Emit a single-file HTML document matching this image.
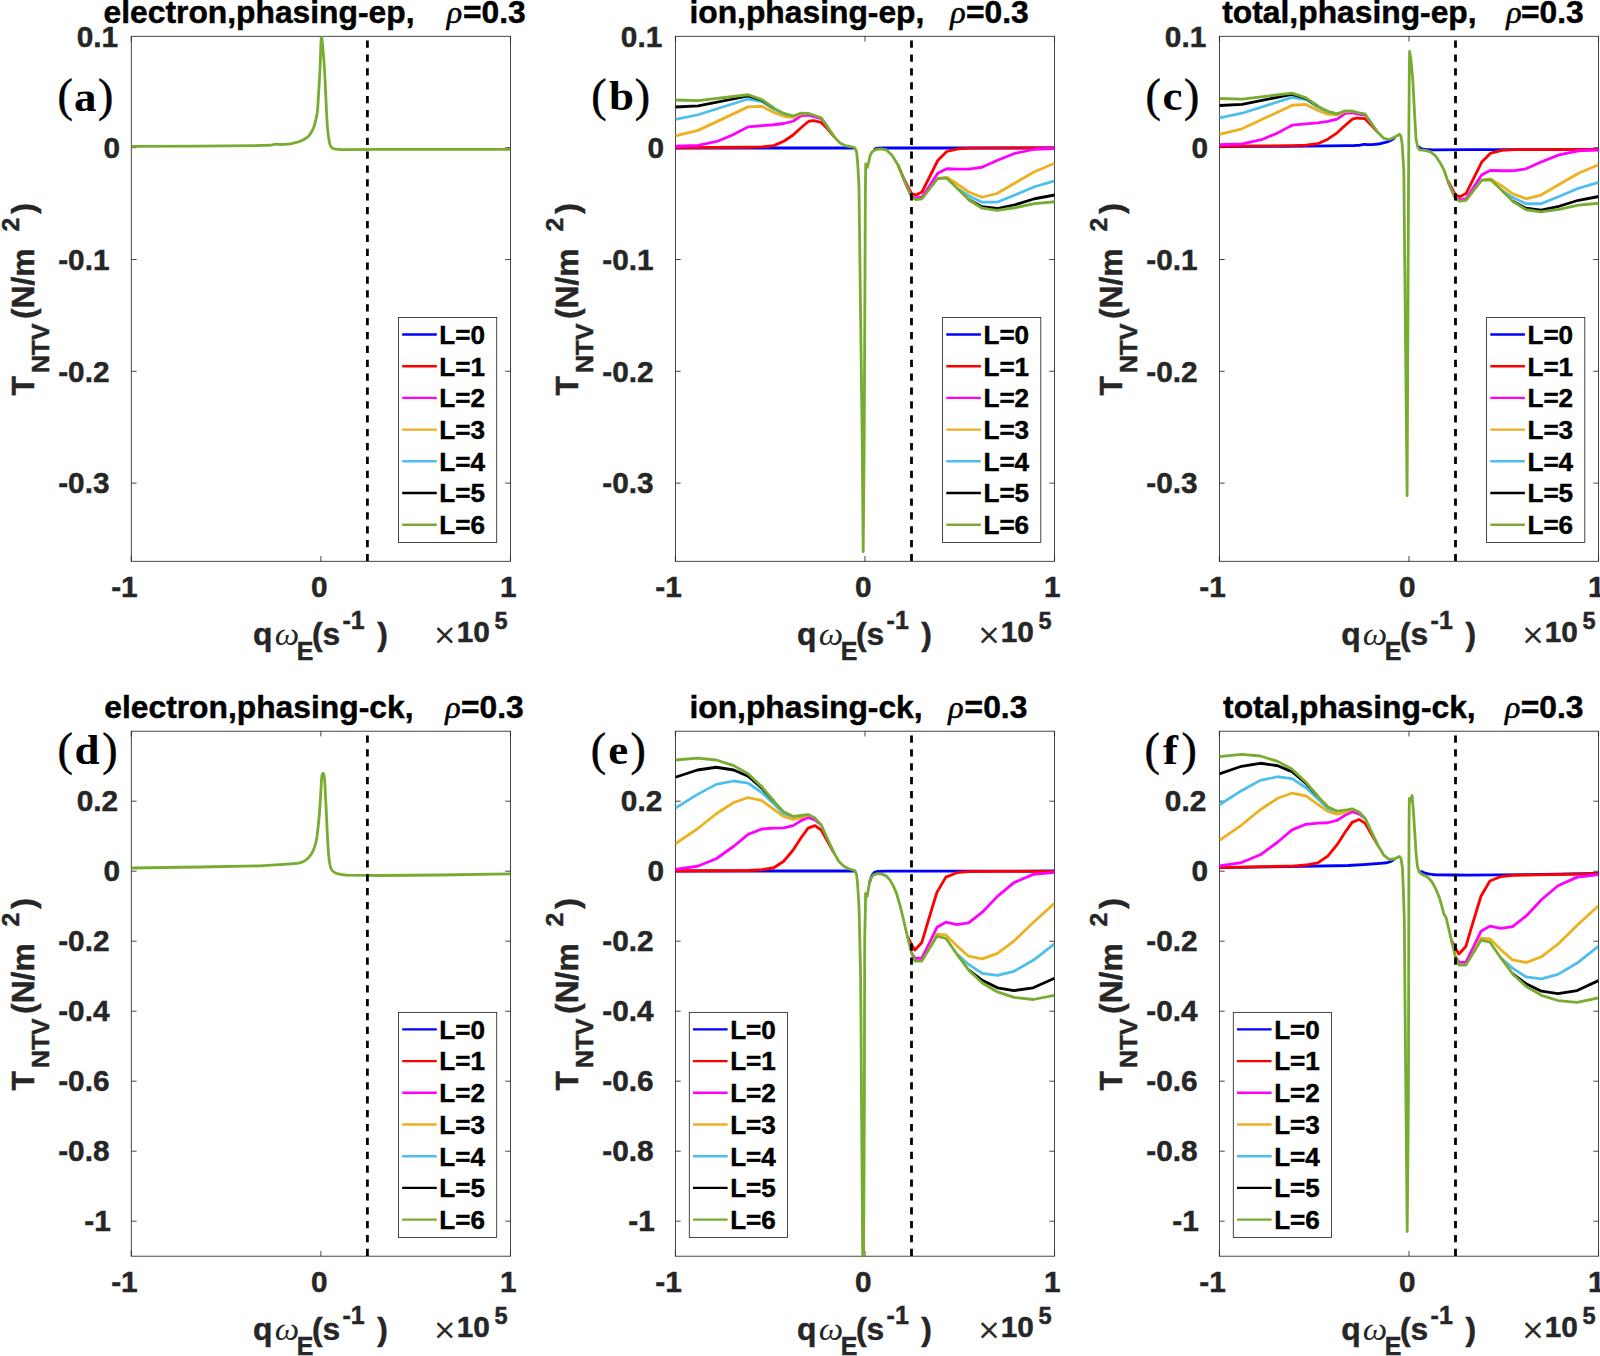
<!DOCTYPE html>
<html><head><meta charset="utf-8"><title>T_NTV vs q omega_E</title>
<style>html,body{margin:0;padding:0;background:#fff}svg{display:block}text{white-space:pre}</style></head>
<body><svg width="1600" height="1356" viewBox="0 0 1600 1356">
<rect x="0" y="0" width="1600" height="1356" fill="#ffffff"/>
<defs>
<clipPath id="cp00"><rect x="131.30" y="36.30" width="379.15" height="525.00"/></clipPath>
<clipPath id="cp01"><rect x="675.40" y="36.30" width="379.15" height="525.00"/></clipPath>
<clipPath id="cp02"><rect x="1219.40" y="36.30" width="379.15" height="525.00"/></clipPath>
<clipPath id="cp10"><rect x="131.30" y="731.20" width="379.15" height="525.00"/></clipPath>
<clipPath id="cp11"><rect x="675.40" y="731.20" width="379.15" height="525.00"/></clipPath>
<clipPath id="cp12"><rect x="1219.40" y="731.20" width="379.15" height="525.00"/></clipPath>
</defs>
<rect x="131.30" y="36.30" width="379.15" height="525.00" fill="none" stroke="#262626" stroke-width="0.85"/>
<path d="M131.30,561.30v-5.3 M131.30,36.30v5.3 M320.88,561.30v-5.3 M320.88,36.30v5.3 M510.45,561.30v-5.3 M510.45,36.30v5.3 M131.30,147.70h5.3 M510.45,147.70h-5.3 M131.30,259.50h5.3 M510.45,259.50h-5.3 M131.30,371.30h5.3 M510.45,371.30h-5.3 M131.30,483.10h5.3 M510.45,483.10h-5.3" stroke="#262626" stroke-width="0.85" fill="none"/>
<g clip-path="url(#cp00)" fill="none" stroke-width="2.8" stroke-linejoin="round" stroke-linecap="butt">
<path d="M131.30,146.30 L200.00,146.20 L260.00,145.50 L262.00,145.46 L262.25,145.45 L262.50,145.45 L262.75,145.44 L263.00,145.43 L263.25,145.43 L263.50,145.42 L263.75,145.41 L264.00,145.41 L264.25,145.40 L264.50,145.39 L264.75,145.39 L265.00,145.38 L265.25,145.37 L265.50,145.36 L265.75,145.35 L266.00,145.34 L266.25,145.34 L266.50,145.33 L266.75,145.32 L267.00,145.31 L267.25,145.30 L267.50,145.29 L267.75,145.28 L268.00,145.26 L268.25,145.25 L268.50,145.24 L268.75,145.23 L269.00,145.22 L269.25,145.20 L269.50,145.19 L269.75,145.18 L270.00,145.16 L270.25,145.15 L270.50,145.13 L270.75,145.12 L271.00,145.10 L271.25,145.08 L271.50,145.05 L271.75,145.02 L272.00,144.97 L272.25,144.93 L272.50,144.87 L272.75,144.82 L273.00,144.76 L273.25,144.70 L273.50,144.64 L273.75,144.58 L274.00,144.52 L274.25,144.47 L274.50,144.41 L274.75,144.37 L275.00,144.32 L275.25,144.28 L275.50,144.25 L275.75,144.22 L276.00,144.21 L276.25,144.20 L276.50,144.20 L276.75,144.21 L277.00,144.23 L277.25,144.25 L277.50,144.27 L277.75,144.30 L278.00,144.33 L278.25,144.36 L278.50,144.39 L278.75,144.42 L279.00,144.45 L279.25,144.47 L279.50,144.49 L279.75,144.50 L280.00,144.50 L280.25,144.50 L280.50,144.50 L280.75,144.50 L281.00,144.49 L281.25,144.49 L281.50,144.48 L281.75,144.47 L282.00,144.47 L282.25,144.46 L282.50,144.45 L282.75,144.44 L283.00,144.43 L283.25,144.41 L283.50,144.40 L283.75,144.39 L284.00,144.37 L284.25,144.36 L284.50,144.34 L284.75,144.33 L285.00,144.31 L285.25,144.29 L285.50,144.28 L285.75,144.26 L286.00,144.24 L286.25,144.22 L286.50,144.20 L286.75,144.18 L287.00,144.16 L287.25,144.14 L287.50,144.12 L287.75,144.09 L288.00,144.07 L288.25,144.05 L288.50,144.03 L288.75,144.00 L289.00,143.98 L289.25,143.95 L289.50,143.92 L289.75,143.89 L290.00,143.85 L290.25,143.82 L290.50,143.77 L290.75,143.73 L291.00,143.68 L291.25,143.64 L291.50,143.59 L291.75,143.53 L292.00,143.48 L292.25,143.43 L292.50,143.37 L292.75,143.31 L293.00,143.25 L293.25,143.19 L293.50,143.13 L293.75,143.07 L294.00,143.00 L294.25,142.94 L294.50,142.88 L294.75,142.82 L295.00,142.75 L295.25,142.69 L295.50,142.63 L295.75,142.56 L296.00,142.50 L296.25,142.44 L296.50,142.38 L296.75,142.31 L297.00,142.25 L297.25,142.18 L297.50,142.12 L297.75,142.05 L298.00,141.98 L298.25,141.91 L298.50,141.83 L298.75,141.76 L299.00,141.68 L299.25,141.60 L299.50,141.52 L299.75,141.43 L300.00,141.35 L300.25,141.26 L300.50,141.16 L300.75,141.06 L301.00,140.96 L301.25,140.85 L301.50,140.73 L301.75,140.61 L302.00,140.49 L302.25,140.36 L302.50,140.23 L302.75,140.10 L303.00,139.96 L303.25,139.82 L303.50,139.67 L303.75,139.53 L304.00,139.38 L304.25,139.23 L304.50,139.08 L304.75,138.93 L305.00,138.78 L305.25,138.63 L305.50,138.47 L305.75,138.32 L306.00,138.16 L306.25,138.00 L306.50,137.83 L306.75,137.66 L307.00,137.48 L307.25,137.29 L307.50,137.09 L307.75,136.89 L308.00,136.67 L308.25,136.44 L308.50,136.20 L308.75,135.93 L309.00,135.64 L309.25,135.33 L309.50,134.99 L309.75,134.64 L310.00,134.27 L310.25,133.89 L310.50,133.50 L310.75,133.10 L311.00,132.70 L311.25,132.29 L311.50,131.87 L311.75,131.44 L312.00,130.99 L312.25,130.52 L312.50,130.03 L312.75,129.52 L313.00,128.98 L313.25,128.42 L313.50,127.81 L313.75,127.15 L314.00,126.45 L314.25,125.69 L314.50,124.90 L314.75,124.07 L315.00,123.19 L315.25,122.24 L315.50,121.23 L315.75,120.16 L316.00,119.05 L316.25,117.88 L316.50,116.64 L316.75,115.29 L317.00,113.85 L317.25,112.28 L317.50,110.30 L317.75,107.37 L318.00,103.47 L318.25,99.08 L318.50,94.66 L318.75,90.62 L319.00,86.76 L319.25,82.88 L319.50,78.78 L319.75,74.28 L320.00,69.09 L320.25,62.60 L320.50,55.55 L320.75,48.90 L321.00,42.30 L321.25,36.67 L321.35,36.00 L321.50,36.21 L321.75,37.39 L322.00,39.35 L322.25,41.83 L322.50,44.54 L322.75,47.20 L323.00,49.75 L323.25,52.51 L323.50,55.49 L323.75,58.70 L324.00,62.13 L324.25,65.79 L324.50,69.68 L324.75,73.93 L325.00,78.90 L325.25,84.33 L325.50,89.84 L325.75,95.27 L326.00,100.91 L326.25,106.42 L326.50,111.43 L326.75,115.97 L327.00,120.29 L327.25,124.41 L327.50,127.71 L327.75,130.42 L328.00,132.75 L328.25,134.80 L328.50,136.64 L328.75,138.29 L329.00,139.80 L329.25,141.24 L329.50,142.57 L329.75,143.63 L330.00,144.40 L330.25,145.06 L330.50,145.63 L330.75,146.11 L331.00,146.50 L331.25,146.84 L331.50,147.16 L331.75,147.44 L332.00,147.70 L332.25,147.91 L332.50,148.09 L332.75,148.22 L333.00,148.34 L333.25,148.44 L333.50,148.54 L333.75,148.62 L334.00,148.71 L334.25,148.78 L334.50,148.85 L334.75,148.91 L335.00,148.96 L335.25,149.01 L335.50,149.05 L335.75,149.09 L336.00,149.13 L336.25,149.16 L336.50,149.20 L336.75,149.23 L337.00,149.26 L337.25,149.29 L337.50,149.31 L337.75,149.34 L338.00,149.36 L338.25,149.38 L338.50,149.41 L338.75,149.42 L339.00,149.44 L339.25,149.46 L339.50,149.47 L339.75,149.48 L340.00,149.49 L340.25,149.50 L340.50,149.51 L340.75,149.52 L341.00,149.52 L341.25,149.53 L341.50,149.54 L341.75,149.54 L342.00,149.55 L342.25,149.55 L342.50,149.56 L342.75,149.56 L343.00,149.57 L343.25,149.57 L343.50,149.58 L343.75,149.58 L344.00,149.59 L344.25,149.59 L344.50,149.59 L344.75,149.59 L345.00,149.60 L345.25,149.60 L345.50,149.60 L345.75,149.60 L346.00,149.60 L380.00,149.40 L510.70,149.30" stroke="#77ac30"/>
<line x1="367.40" y1="40.50" x2="367.40" y2="566.30" stroke="#000" stroke-width="2.8" stroke-dasharray="7.25 6.627"/>
</g>
<text x="76.75" y="46.55" style="font-family:'Liberation Sans',sans-serif;font-weight:bold;font-size:29.8px" fill="#262626" stroke="#262626" stroke-width="0.45" >0.1</text>
<text x="103.45" y="157.95" style="font-family:'Liberation Sans',sans-serif;font-weight:bold;font-size:29.8px" fill="#262626" stroke="#262626" stroke-width="0.45" >0</text>
<text x="58.15" y="269.75" style="font-family:'Liberation Sans',sans-serif;font-weight:bold;font-size:29.8px" fill="#262626" stroke="#262626" stroke-width="0.45" >-0.1</text>
<text x="58.15" y="381.55" style="font-family:'Liberation Sans',sans-serif;font-weight:bold;font-size:29.8px" fill="#262626" stroke="#262626" stroke-width="0.45" >-0.2</text>
<text x="58.15" y="493.35" style="font-family:'Liberation Sans',sans-serif;font-weight:bold;font-size:29.8px" fill="#262626" stroke="#262626" stroke-width="0.45" >-0.3</text>
<text x="111.15" y="597.30" style="font-family:'Liberation Sans',sans-serif;font-weight:bold;font-size:29.8px" fill="#262626" stroke="#262626" stroke-width="0.45" >-1</text>
<text x="310.93" y="597.30" style="font-family:'Liberation Sans',sans-serif;font-weight:bold;font-size:29.8px" fill="#262626" stroke="#262626" stroke-width="0.45" >0</text>
<text x="500.00" y="597.30" style="font-family:'Liberation Sans',sans-serif;font-weight:bold;font-size:29.8px" fill="#262626" stroke="#262626" stroke-width="0.45" >1</text>
<text><tspan x="434.05" y="647.95" style="font-family:'Liberation Serif',serif;font-size:38px" fill="#262626" stroke="#262626" stroke-width="0.5">×</tspan><tspan x="456.70" y="642.00" style="font-family:'Liberation Sans',sans-serif;font-weight:bold;font-size:29.8px" fill="#262626" stroke="#262626" stroke-width="0.45">10 </tspan><tspan x="494.50" y="628.90" style="font-family:'Liberation Sans',sans-serif;font-weight:bold;font-size:23.6px" fill="#262626" stroke="#262626" stroke-width="0.45">5</tspan></text>
<text><tspan x="253.03" y="645.30" style="font-family:'Liberation Sans',sans-serif;font-weight:bold;font-size:31.8px" fill="#262626" stroke="#262626" stroke-width="0.45">q</tspan><tspan x="274.69" y="645.30" style="font-family:'Liberation Serif',serif;font-style:italic;font-size:31.8px" fill="#262626" textLength="24.44" lengthAdjust="spacingAndGlyphs">ω</tspan><tspan x="296.73" y="660.40" style="font-family:'Liberation Sans',sans-serif;font-weight:bold;font-size:25px" fill="#262626" stroke="#262626" stroke-width="0.45">E</tspan><tspan x="311.88" y="645.30" style="font-family:'Liberation Sans',sans-serif;font-weight:bold;font-size:31.8px" fill="#262626" stroke="#262626" stroke-width="0.45">(s</tspan><tspan x="342.48" y="629.40" style="font-family:'Liberation Sans',sans-serif;font-weight:bold;font-size:25px" fill="#262626" stroke="#262626" stroke-width="0.45">-1 </tspan><tspan x="377.27" y="645.30" style="font-family:'Liberation Sans',sans-serif;font-weight:bold;font-size:31.8px" fill="#262626" stroke="#262626" stroke-width="0.45">)</tspan></text>
<text transform="translate(33.90,298.95) rotate(-90)"><tspan x="-96.55" y="0.00" style="font-family:'Liberation Sans',sans-serif;font-weight:bold;font-size:31.8px" fill="#262626" stroke="#262626" stroke-width="0.45">T</tspan><tspan x="-74.15" y="14.90" style="font-family:'Liberation Sans',sans-serif;font-weight:bold;font-size:24.8px" fill="#262626" stroke="#262626" stroke-width="0.45">NTV</tspan><tspan x="-20.10" y="0.00" style="font-family:'Liberation Sans',sans-serif;font-weight:bold;font-size:31.8px" fill="#262626" stroke="#262626" stroke-width="0.45">(N/m </tspan><tspan x="67.35" y="-15.00" style="font-family:'Liberation Sans',sans-serif;font-weight:bold;font-size:24.8px" fill="#262626" stroke="#262626" stroke-width="0.45">2</tspan><tspan x="85.10" y="0.00" style="font-family:'Liberation Sans',sans-serif;font-weight:bold;font-size:31.8px" fill="#262626" stroke="#262626" stroke-width="0.45">)</tspan></text>
<text><tspan x="103.55" y="22.80" style="font-family:'Liberation Sans',sans-serif;font-weight:bold;font-size:31.8px" fill="#000" stroke="#000" stroke-width="0.45">electron,phasing-ep, </tspan><tspan x="446.75" y="22.80" style="font-family:'Liberation Serif',serif;font-style:italic;font-size:32px" fill="#000" stroke="#000" stroke-width="0.6">ρ</tspan><tspan x="463.00" y="22.80" style="font-family:'Liberation Sans',sans-serif;font-weight:bold;font-size:31.8px" fill="#000" stroke="#000" stroke-width="0.45">=0.3</tspan></text>
<text><tspan x="57.60" y="111.10" style="font-family:'Liberation Serif',serif;font-size:46px" fill="#000" stroke="#000" stroke-width="0.5">(</tspan><tspan x="74.06" y="110.60" style="font-family:'Liberation Serif',serif;font-weight:bold;font-size:42px" fill="#000" textLength="22.47" lengthAdjust="spacingAndGlyphs">a</tspan><tspan x="97.95" y="111.10" style="font-family:'Liberation Serif',serif;font-size:46px" fill="#000" stroke="#000" stroke-width="0.5">)</tspan></text>
<rect x="398.50" y="317.50" width="98.2" height="225" fill="#fff" stroke="#262626" stroke-width="0.85"/>
<line x1="402.20" y1="334.50" x2="436.80" y2="334.50" stroke="#0000ff" stroke-width="2.4"/>
<text x="439.35" y="343.80" style="font-family:'Liberation Sans',sans-serif;font-weight:bold;font-size:26.1px" fill="#000" stroke="#000" stroke-width="0.45" >L=0</text>
<line x1="402.20" y1="366.20" x2="436.80" y2="366.20" stroke="#ff0000" stroke-width="2.4"/>
<text x="439.35" y="375.50" style="font-family:'Liberation Sans',sans-serif;font-weight:bold;font-size:26.1px" fill="#000" stroke="#000" stroke-width="0.45" >L=1</text>
<line x1="402.20" y1="397.90" x2="436.80" y2="397.90" stroke="#ff00ff" stroke-width="2.4"/>
<text x="439.35" y="407.20" style="font-family:'Liberation Sans',sans-serif;font-weight:bold;font-size:26.1px" fill="#000" stroke="#000" stroke-width="0.45" >L=2</text>
<line x1="402.20" y1="429.60" x2="436.80" y2="429.60" stroke="#edb120" stroke-width="2.4"/>
<text x="439.35" y="438.90" style="font-family:'Liberation Sans',sans-serif;font-weight:bold;font-size:26.1px" fill="#000" stroke="#000" stroke-width="0.45" >L=3</text>
<line x1="402.20" y1="461.30" x2="436.80" y2="461.30" stroke="#4dbeee" stroke-width="2.4"/>
<text x="439.35" y="470.60" style="font-family:'Liberation Sans',sans-serif;font-weight:bold;font-size:26.1px" fill="#000" stroke="#000" stroke-width="0.45" >L=4</text>
<line x1="402.20" y1="493.00" x2="436.80" y2="493.00" stroke="#000000" stroke-width="2.4"/>
<text x="439.35" y="502.30" style="font-family:'Liberation Sans',sans-serif;font-weight:bold;font-size:26.1px" fill="#000" stroke="#000" stroke-width="0.45" >L=5</text>
<line x1="402.20" y1="524.70" x2="436.80" y2="524.70" stroke="#77ac30" stroke-width="2.4"/>
<text x="439.35" y="534.00" style="font-family:'Liberation Sans',sans-serif;font-weight:bold;font-size:26.1px" fill="#000" stroke="#000" stroke-width="0.45" >L=6</text>
<rect x="675.40" y="36.30" width="379.15" height="525.00" fill="none" stroke="#262626" stroke-width="0.85"/>
<path d="M675.40,561.30v-5.3 M675.40,36.30v5.3 M864.97,561.30v-5.3 M864.97,36.30v5.3 M1054.55,561.30v-5.3 M1054.55,36.30v5.3 M675.40,147.70h5.3 M1054.55,147.70h-5.3 M675.40,259.50h5.3 M1054.55,259.50h-5.3 M675.40,371.30h5.3 M1054.55,371.30h-5.3 M675.40,483.10h5.3 M1054.55,483.10h-5.3" stroke="#262626" stroke-width="0.85" fill="none"/>
<g clip-path="url(#cp01)" fill="none" stroke-width="2.8" stroke-linejoin="round" stroke-linecap="butt">
<path d="M675.38,148.00 L855.00,148.00 M874.00,149.60 L875.40,148.60 L878.00,148.10 L885.00,148.00 L1054.75,148.00" stroke="#0000ff"/>
<path d="M675.38,147.75 L748.12,147.25 L761.88,146.88 L773.75,145.62 L783.75,141.25 L793.12,135.00 L801.25,127.50 L808.75,121.25 L813.75,120.62 L821.25,122.50 L827.50,128.75 L833.75,136.25 M898.00,165.00 L904.00,179.25 L911.50,193.50 L916.00,195.00 L922.00,192.00 L929.50,177.00 L937.75,160.50 L946.75,151.50 L958.00,148.80 L970.00,148.05 L1054.75,147.90" stroke="#ff0000"/>
<path d="M675.38,146.25 L698.12,145.38 L717.50,141.25 L732.50,135.00 L748.12,126.88 L761.88,125.62 L773.75,124.75 L783.75,123.50 L793.12,121.25 L801.25,115.62 L808.75,115.25 L821.25,118.75 L827.50,126.88 M904.00,180.00 L911.50,196.50 L916.00,198.00 L922.00,197.25 L929.50,186.00 L937.75,173.25 L946.75,168.75 L958.00,169.20 L968.50,169.20 L982.00,167.25 L997.00,160.50 L1015.00,153.30 L1034.50,149.25 L1054.75,148.50" stroke="#ff00ff"/>
<path d="M675.38,135.88 L698.12,130.38 L748.12,106.88 L761.88,106.25 L773.75,112.50 L783.75,116.25 L793.12,117.25 L801.25,113.75 L808.75,113.50 M937.75,178.50 L946.75,177.30 L958.00,184.50 L968.50,192.00 L982.00,197.25 L997.00,193.50 L1015.00,183.00 L1034.50,171.75 L1054.75,163.20" stroke="#edb120"/>
<path d="M675.38,119.38 L698.12,114.75 L748.12,99.00 L761.88,101.50 L773.75,109.12 L783.75,113.75 L793.12,116.00 M958.00,189.00 L968.50,195.75 L982.00,202.20 L997.00,202.20 L1015.00,195.00 L1034.50,186.75 L1054.75,180.75" stroke="#4dbeee"/>
<path d="M675.38,107.00 L698.12,105.88 L748.12,96.00 L761.88,100.25 L773.75,108.12 M968.50,199.50 L982.00,206.70 L997.00,208.50 L1015.00,204.75 L1034.50,198.75 L1054.75,195.00" stroke="#000000"/>
<path d="M675.38,100.00 L698.12,100.62 L748.12,94.75 L761.88,99.62 L773.75,108.12 L783.75,113.38 L793.12,116.00 L801.25,113.12 L808.75,113.50 L821.25,117.75 L827.50,126.88 L833.75,136.25 L840.00,143.12 L845.00,145.62 L850.00,146.50 L853.75,147.25 L855.00,148.10 L856.60,152.10 L857.50,161.00 L858.10,169.80 L858.80,183.10 L859.00,190.00 L862.20,440.00 L863.20,551.70 L864.20,440.00 L865.40,190.00 L865.60,174.20 L865.70,164.00 L867.30,167.40 L868.80,161.80 L870.10,155.70 L871.90,152.10 L874.50,150.10 L877.60,149.20 L882.00,149.10 L886.50,149.90 L892.00,155.25 L898.00,165.00 L904.00,180.00 L911.50,197.25 L916.00,199.50 L922.00,198.75 L929.50,189.00 L937.75,178.50 L946.75,178.20 L958.00,189.00 L968.50,199.50 L982.00,208.20 L997.00,210.30 L1015.00,207.75 L1034.50,203.70 L1054.75,201.75" stroke="#77ac30"/>
<line x1="911.50" y1="40.50" x2="911.50" y2="566.30" stroke="#000" stroke-width="2.8" stroke-dasharray="7.25 6.627"/>
</g>
<text x="620.85" y="46.55" style="font-family:'Liberation Sans',sans-serif;font-weight:bold;font-size:29.8px" fill="#262626" stroke="#262626" stroke-width="0.45" >0.1</text>
<text x="647.55" y="157.95" style="font-family:'Liberation Sans',sans-serif;font-weight:bold;font-size:29.8px" fill="#262626" stroke="#262626" stroke-width="0.45" >0</text>
<text x="602.25" y="269.75" style="font-family:'Liberation Sans',sans-serif;font-weight:bold;font-size:29.8px" fill="#262626" stroke="#262626" stroke-width="0.45" >-0.1</text>
<text x="602.25" y="381.55" style="font-family:'Liberation Sans',sans-serif;font-weight:bold;font-size:29.8px" fill="#262626" stroke="#262626" stroke-width="0.45" >-0.2</text>
<text x="602.25" y="493.35" style="font-family:'Liberation Sans',sans-serif;font-weight:bold;font-size:29.8px" fill="#262626" stroke="#262626" stroke-width="0.45" >-0.3</text>
<text x="655.25" y="597.30" style="font-family:'Liberation Sans',sans-serif;font-weight:bold;font-size:29.8px" fill="#262626" stroke="#262626" stroke-width="0.45" >-1</text>
<text x="855.02" y="597.30" style="font-family:'Liberation Sans',sans-serif;font-weight:bold;font-size:29.8px" fill="#262626" stroke="#262626" stroke-width="0.45" >0</text>
<text x="1044.10" y="597.30" style="font-family:'Liberation Sans',sans-serif;font-weight:bold;font-size:29.8px" fill="#262626" stroke="#262626" stroke-width="0.45" >1</text>
<text><tspan x="978.15" y="647.95" style="font-family:'Liberation Serif',serif;font-size:38px" fill="#262626" stroke="#262626" stroke-width="0.5">×</tspan><tspan x="1000.80" y="642.00" style="font-family:'Liberation Sans',sans-serif;font-weight:bold;font-size:29.8px" fill="#262626" stroke="#262626" stroke-width="0.45">10 </tspan><tspan x="1038.60" y="628.90" style="font-family:'Liberation Sans',sans-serif;font-weight:bold;font-size:23.6px" fill="#262626" stroke="#262626" stroke-width="0.45">5</tspan></text>
<text><tspan x="797.12" y="645.30" style="font-family:'Liberation Sans',sans-serif;font-weight:bold;font-size:31.8px" fill="#262626" stroke="#262626" stroke-width="0.45">q</tspan><tspan x="818.78" y="645.30" style="font-family:'Liberation Serif',serif;font-style:italic;font-size:31.8px" fill="#262626" textLength="24.44" lengthAdjust="spacingAndGlyphs">ω</tspan><tspan x="840.82" y="660.40" style="font-family:'Liberation Sans',sans-serif;font-weight:bold;font-size:25px" fill="#262626" stroke="#262626" stroke-width="0.45">E</tspan><tspan x="855.97" y="645.30" style="font-family:'Liberation Sans',sans-serif;font-weight:bold;font-size:31.8px" fill="#262626" stroke="#262626" stroke-width="0.45">(s</tspan><tspan x="886.57" y="629.40" style="font-family:'Liberation Sans',sans-serif;font-weight:bold;font-size:25px" fill="#262626" stroke="#262626" stroke-width="0.45">-1 </tspan><tspan x="921.37" y="645.30" style="font-family:'Liberation Sans',sans-serif;font-weight:bold;font-size:31.8px" fill="#262626" stroke="#262626" stroke-width="0.45">)</tspan></text>
<text transform="translate(578.00,298.95) rotate(-90)"><tspan x="-96.55" y="0.00" style="font-family:'Liberation Sans',sans-serif;font-weight:bold;font-size:31.8px" fill="#262626" stroke="#262626" stroke-width="0.45">T</tspan><tspan x="-74.15" y="14.90" style="font-family:'Liberation Sans',sans-serif;font-weight:bold;font-size:24.8px" fill="#262626" stroke="#262626" stroke-width="0.45">NTV</tspan><tspan x="-20.10" y="0.00" style="font-family:'Liberation Sans',sans-serif;font-weight:bold;font-size:31.8px" fill="#262626" stroke="#262626" stroke-width="0.45">(N/m </tspan><tspan x="67.35" y="-15.00" style="font-family:'Liberation Sans',sans-serif;font-weight:bold;font-size:24.8px" fill="#262626" stroke="#262626" stroke-width="0.45">2</tspan><tspan x="85.10" y="0.00" style="font-family:'Liberation Sans',sans-serif;font-weight:bold;font-size:31.8px" fill="#262626" stroke="#262626" stroke-width="0.45">)</tspan></text>
<text><tspan x="689.45" y="22.80" style="font-family:'Liberation Sans',sans-serif;font-weight:bold;font-size:31.8px" fill="#000" stroke="#000" stroke-width="0.45">ion,phasing-ep, </tspan><tspan x="950.35" y="22.80" style="font-family:'Liberation Serif',serif;font-style:italic;font-size:32px" fill="#000" stroke="#000" stroke-width="0.6">ρ</tspan><tspan x="966.00" y="22.80" style="font-family:'Liberation Sans',sans-serif;font-weight:bold;font-size:31.8px" fill="#000" stroke="#000" stroke-width="0.45">=0.3</tspan></text>
<text><tspan x="591.20" y="110.90" style="font-family:'Liberation Serif',serif;font-size:46px" fill="#000" stroke="#000" stroke-width="0.5">(</tspan><tspan x="609.00" y="110.40" style="font-family:'Liberation Serif',serif;font-weight:bold;font-size:42px" fill="#000" textLength="24.99" lengthAdjust="spacingAndGlyphs">b</tspan><tspan x="634.75" y="110.90" style="font-family:'Liberation Serif',serif;font-size:46px" fill="#000" stroke="#000" stroke-width="0.5">)</tspan></text>
<rect x="942.60" y="317.50" width="98.2" height="225" fill="#fff" stroke="#262626" stroke-width="0.85"/>
<line x1="946.30" y1="334.50" x2="980.90" y2="334.50" stroke="#0000ff" stroke-width="2.4"/>
<text x="983.45" y="343.80" style="font-family:'Liberation Sans',sans-serif;font-weight:bold;font-size:26.1px" fill="#000" stroke="#000" stroke-width="0.45" >L=0</text>
<line x1="946.30" y1="366.20" x2="980.90" y2="366.20" stroke="#ff0000" stroke-width="2.4"/>
<text x="983.45" y="375.50" style="font-family:'Liberation Sans',sans-serif;font-weight:bold;font-size:26.1px" fill="#000" stroke="#000" stroke-width="0.45" >L=1</text>
<line x1="946.30" y1="397.90" x2="980.90" y2="397.90" stroke="#ff00ff" stroke-width="2.4"/>
<text x="983.45" y="407.20" style="font-family:'Liberation Sans',sans-serif;font-weight:bold;font-size:26.1px" fill="#000" stroke="#000" stroke-width="0.45" >L=2</text>
<line x1="946.30" y1="429.60" x2="980.90" y2="429.60" stroke="#edb120" stroke-width="2.4"/>
<text x="983.45" y="438.90" style="font-family:'Liberation Sans',sans-serif;font-weight:bold;font-size:26.1px" fill="#000" stroke="#000" stroke-width="0.45" >L=3</text>
<line x1="946.30" y1="461.30" x2="980.90" y2="461.30" stroke="#4dbeee" stroke-width="2.4"/>
<text x="983.45" y="470.60" style="font-family:'Liberation Sans',sans-serif;font-weight:bold;font-size:26.1px" fill="#000" stroke="#000" stroke-width="0.45" >L=4</text>
<line x1="946.30" y1="493.00" x2="980.90" y2="493.00" stroke="#000000" stroke-width="2.4"/>
<text x="983.45" y="502.30" style="font-family:'Liberation Sans',sans-serif;font-weight:bold;font-size:26.1px" fill="#000" stroke="#000" stroke-width="0.45" >L=5</text>
<line x1="946.30" y1="524.70" x2="980.90" y2="524.70" stroke="#77ac30" stroke-width="2.4"/>
<text x="983.45" y="534.00" style="font-family:'Liberation Sans',sans-serif;font-weight:bold;font-size:26.1px" fill="#000" stroke="#000" stroke-width="0.45" >L=6</text>
<rect x="1219.40" y="36.30" width="379.15" height="525.00" fill="none" stroke="#262626" stroke-width="0.85"/>
<path d="M1219.40,561.30v-5.3 M1219.40,36.30v5.3 M1408.98,561.30v-5.3 M1408.98,36.30v5.3 M1598.55,561.30v-5.3 M1598.55,36.30v5.3 M1219.40,147.70h5.3 M1598.55,147.70h-5.3 M1219.40,259.50h5.3 M1598.55,259.50h-5.3 M1219.40,371.30h5.3 M1598.55,371.30h-5.3 M1219.40,483.10h5.3 M1598.55,483.10h-5.3" stroke="#262626" stroke-width="0.85" fill="none"/>
<g clip-path="url(#cp02)" fill="none" stroke-width="2.8" stroke-linejoin="round" stroke-linecap="butt">
<path d="M1219.40,146.50 L1288.10,146.40 L1348.10,145.70 L1350.10,145.66 L1350.35,145.65 L1350.60,145.65 L1350.85,145.64 L1351.10,145.63 L1351.35,145.63 L1351.60,145.62 L1351.85,145.61 L1352.10,145.61 L1352.35,145.60 L1352.60,145.59 L1352.85,145.59 L1353.10,145.58 L1353.35,145.57 L1353.60,145.56 L1353.85,145.55 L1354.10,145.54 L1354.35,145.54 L1354.60,145.53 L1354.85,145.52 L1355.10,145.51 L1355.35,145.50 L1355.60,145.49 L1355.85,145.48 L1356.10,145.46 L1356.35,145.45 L1356.60,145.44 L1356.85,145.43 L1357.10,145.42 L1357.35,145.40 L1357.60,145.39 L1357.85,145.38 L1358.10,145.36 L1358.35,145.35 L1358.60,145.33 L1358.85,145.32 L1359.10,145.30 L1359.35,145.28 L1359.60,145.25 L1359.85,145.22 L1360.10,145.17 L1360.35,145.13 L1360.60,145.07 L1360.85,145.02 L1361.10,144.96 L1361.35,144.90 L1361.60,144.84 L1361.85,144.78 L1362.10,144.72 L1362.35,144.67 L1362.60,144.61 L1362.85,144.57 L1363.10,144.52 L1363.35,144.48 L1363.60,144.45 L1363.85,144.42 L1364.10,144.41 L1364.35,144.40 L1364.60,144.40 L1364.85,144.41 L1365.10,144.43 L1365.35,144.45 L1365.60,144.47 L1365.85,144.50 L1366.10,144.53 L1366.35,144.56 L1366.60,144.59 L1366.85,144.62 L1367.10,144.65 L1367.35,144.67 L1367.60,144.69 L1367.85,144.70 L1368.10,144.70 L1368.35,144.70 L1368.60,144.70 L1368.85,144.70 L1369.10,144.69 L1369.35,144.69 L1369.60,144.68 L1369.85,144.67 L1370.10,144.67 L1370.35,144.66 L1370.60,144.65 L1370.85,144.64 L1371.10,144.63 L1371.35,144.61 L1371.60,144.60 L1371.85,144.59 L1372.10,144.57 L1372.35,144.56 L1372.60,144.54 L1372.85,144.53 L1373.10,144.51 L1373.35,144.49 L1373.60,144.48 L1373.85,144.46 L1374.10,144.44 L1374.35,144.42 L1374.60,144.40 L1374.85,144.38 L1375.10,144.36 L1375.35,144.34 L1375.60,144.32 L1375.85,144.29 L1376.10,144.27 L1376.35,144.25 L1376.60,144.23 L1376.85,144.20 L1377.10,144.18 L1377.35,144.15 L1377.60,144.12 L1377.85,144.09 L1378.10,144.05 L1378.35,144.02 L1378.60,143.97 L1378.85,143.93 L1379.10,143.88 L1379.35,143.84 L1379.60,143.79 L1379.85,143.73 L1380.10,143.68 L1380.35,143.63 L1380.60,143.57 L1380.85,143.51 L1381.10,143.45 L1381.35,143.39 L1381.60,143.33 L1381.85,143.27 L1382.10,143.20 L1382.35,143.14 L1382.60,143.08 L1382.85,143.02 L1383.10,142.95 L1383.35,142.89 L1383.60,142.83 L1383.85,142.76 L1384.10,142.70 L1384.35,142.64 L1384.60,142.58 L1384.85,142.51 L1385.10,142.45 L1385.35,142.38 L1385.60,142.32 L1385.85,142.25 L1386.10,142.18 L1386.35,142.11 L1386.60,142.03 L1386.85,141.96 L1387.10,141.88 L1387.35,141.80 L1387.60,141.72 L1387.85,141.63 L1388.10,141.55 L1388.35,141.46 L1388.60,141.36 L1388.85,141.26 L1389.10,141.16 L1389.35,141.05 L1389.60,140.93 L1389.85,140.81 L1390.10,140.69 L1390.35,140.56 L1390.60,140.43 L1390.85,140.30 L1391.10,140.16 L1391.35,140.02 L1391.60,139.87 L1391.85,139.73 L1392.10,139.58 L1392.35,139.43 L1392.60,139.28 L1392.85,139.13 L1393.10,138.98 L1393.35,138.83 L1393.60,138.67 L1393.85,138.52 L1394.10,138.36 L1394.30,137.40 M1417.60,146.70 L1419.60,147.36 L1419.85,147.64 L1420.10,147.90 L1420.35,148.11 L1420.60,148.29 L1420.85,148.42 L1421.10,148.54 L1421.35,148.64 L1421.60,148.74 L1421.85,148.82 L1422.10,148.91 L1422.35,148.98 L1422.60,149.05 L1422.85,149.11 L1423.10,149.16 L1423.35,149.21 L1423.60,149.25 L1423.85,149.29 L1424.10,149.33 L1424.35,149.36 L1424.60,149.40 L1424.85,149.43 L1425.10,149.46 L1425.35,149.49 L1425.60,149.51 L1425.85,149.54 L1426.10,149.56 L1426.35,149.58 L1426.60,149.61 L1426.85,149.62 L1427.10,149.64 L1427.35,149.66 L1427.60,149.67 L1427.85,149.68 L1428.10,149.69 L1428.35,149.70 L1428.60,149.71 L1428.85,149.72 L1429.10,149.72 L1429.35,149.73 L1429.60,149.74 L1429.85,149.74 L1430.10,149.75 L1430.35,149.75 L1430.60,149.76 L1430.85,149.76 L1431.10,149.77 L1431.35,149.77 L1431.60,149.78 L1431.85,149.78 L1432.10,149.79 L1432.35,149.79 L1432.60,149.79 L1432.85,149.79 L1433.10,149.80 L1433.35,149.80 L1433.60,149.80 L1433.85,149.80 L1434.10,149.80 L1468.10,149.60 L1598.80,149.50" stroke="#0000ff"/>
<path d="M1219.38,146.25 L1219.40,146.25 L1288.10,145.68 L1292.12,145.60 L1305.88,145.07 L1317.75,143.68 L1327.75,139.19 L1337.12,132.83 L1345.25,125.23 L1348.10,122.83 L1350.10,121.12 L1350.35,120.90 L1350.60,120.69 L1350.85,120.47 L1351.10,120.26 L1351.35,120.04 L1351.60,119.83 L1351.85,119.61 L1352.10,119.40 L1352.35,119.18 L1352.60,118.97 L1352.75,118.84 L1352.85,118.82 L1353.10,118.78 L1353.35,118.74 L1353.60,118.71 L1353.85,118.67 L1354.10,118.63 L1354.35,118.59 L1354.60,118.54 L1354.85,118.50 L1355.10,118.46 L1355.35,118.42 L1355.60,118.38 L1355.85,118.34 L1356.10,118.30 L1356.35,118.25 L1356.60,118.21 L1356.85,118.17 L1357.10,118.12 L1357.35,118.08 L1357.60,118.03 L1357.75,118.01 L1357.85,118.03 L1358.10,118.07 L1358.35,118.12 L1358.60,118.17 L1358.85,118.22 L1359.10,118.26 L1359.35,118.30 L1359.60,118.34 L1359.85,118.37 L1360.10,118.39 L1360.35,118.40 L1360.60,118.41 L1360.85,118.42 L1361.10,118.42 L1361.35,118.43 L1361.60,118.43 L1361.85,118.43 L1362.10,118.44 L1362.35,118.44 L1362.60,118.45 L1362.85,118.47 L1363.10,118.48 L1363.35,118.51 L1363.60,118.54 L1363.85,118.57 L1364.10,118.62 L1364.35,118.68 L1364.60,118.74 L1364.85,118.81 L1365.10,118.89 L1365.25,118.94 L1365.35,119.05 L1365.60,119.32 L1365.85,119.60 L1366.10,119.88 L1366.35,120.16 L1366.60,120.44 L1366.85,120.72 L1367.10,121.00 L1367.35,121.27 L1367.60,121.54 L1367.85,121.80 L1368.10,122.05 L1368.35,122.30 L1368.60,122.55 L1368.85,122.80 L1369.10,123.04 L1369.35,123.29 L1369.60,123.53 L1369.85,123.77 L1370.10,124.02 L1370.35,124.26 L1370.60,124.50 L1370.85,124.74 L1371.10,124.98 L1371.35,125.21 L1371.50,125.36 L1371.60,125.47 L1371.85,125.76 L1372.10,126.04 L1372.35,126.33 L1372.60,126.61 L1372.85,126.90 L1373.10,127.18 L1373.35,127.46 L1373.60,127.75 L1373.85,128.03 L1374.10,128.31 L1374.35,128.59 L1374.60,128.87 L1374.85,129.15 L1375.10,129.43 L1375.35,129.71 L1375.60,129.99 L1375.85,130.26 L1376.10,130.54 L1376.35,130.82 L1376.60,131.10 L1376.85,131.37 L1377.10,131.65 L1377.35,131.92 L1377.60,132.19 L1377.75,132.35 M1448.00,180.97 L1455.50,195.17 L1460.00,196.65 L1466.00,193.61 L1468.10,189.40 L1473.50,178.60 L1481.75,162.09 L1490.75,153.08 L1502.00,150.37 L1514.00,149.61 L1598.75,149.40" stroke="#ff0000"/>
<path d="M1219.38,144.75 L1219.40,144.75 L1242.12,143.84 L1261.50,139.69 L1276.50,133.42 L1288.10,127.37 L1292.12,125.23 L1305.88,123.82 L1317.75,122.80 L1327.75,121.44 L1337.12,119.08 L1345.25,113.36 L1348.10,113.18 L1350.10,113.04 L1350.35,113.02 L1350.60,113.00 L1350.85,112.98 L1351.10,112.97 L1351.35,112.95 L1351.60,112.93 L1351.85,112.91 L1352.10,112.89 L1352.35,112.87 L1352.60,112.85 L1352.75,112.84 L1352.85,112.86 L1353.10,112.93 L1353.35,112.99 L1353.60,113.05 L1353.85,113.11 L1354.10,113.17 L1354.35,113.23 L1354.60,113.29 L1354.85,113.35 L1355.10,113.41 L1355.35,113.47 L1355.60,113.53 L1355.85,113.59 L1356.10,113.65 L1356.35,113.71 L1356.60,113.77 L1356.85,113.83 L1357.10,113.88 L1357.35,113.94 L1357.60,114.00 L1357.85,114.05 L1358.10,114.11 L1358.35,114.16 L1358.60,114.22 L1358.85,114.27 L1359.10,114.33 L1359.35,114.38 L1359.60,114.42 L1359.85,114.45 L1360.10,114.48 L1360.35,114.50 L1360.60,114.52 L1360.85,114.54 L1361.10,114.55 L1361.35,114.56 L1361.60,114.57 L1361.85,114.58 L1362.10,114.59 L1362.35,114.61 L1362.60,114.62 L1362.85,114.64 L1363.10,114.67 L1363.35,114.70 L1363.60,114.74 L1363.85,114.78 L1364.10,114.84 L1364.35,114.90 L1364.60,114.97 L1364.85,115.05 L1365.10,115.14 L1365.25,115.19 L1365.35,115.33 L1365.60,115.68 L1365.85,116.03 L1366.10,116.39 L1366.35,116.74 L1366.60,117.10 L1366.85,117.45 L1367.10,117.80 L1367.35,118.15 L1367.60,118.49 L1367.85,118.83 L1368.10,119.15 L1368.35,119.48 L1368.60,119.80 L1368.85,120.13 L1369.10,120.45 L1369.35,120.77 L1369.60,121.09 L1369.85,121.40 L1370.10,121.72 L1370.35,122.04 L1370.60,122.35 L1370.85,122.67 L1371.10,122.98 L1371.35,123.29 L1371.50,123.48 M1448.00,181.72 L1455.50,198.17 L1460.00,199.65 L1466.00,198.86 L1468.10,195.70 L1473.50,187.60 L1481.75,174.84 L1490.75,170.33 L1502.00,170.77 L1512.50,170.77 L1526.00,168.81 L1541.00,162.04 L1559.00,154.83 L1578.50,150.77 L1598.75,150.00" stroke="#ff00ff"/>
<path d="M1219.38,134.38 L1219.40,134.37 L1242.12,128.84 L1288.10,107.17 L1292.12,105.23 L1305.88,104.44 L1317.75,110.55 L1327.75,114.19 L1337.12,115.08 L1345.25,111.48 L1348.10,111.35 L1350.10,111.25 L1350.35,111.23 L1350.60,111.22 L1350.85,111.20 L1351.10,111.19 L1351.35,111.17 L1351.60,111.16 L1351.85,111.14 L1352.10,111.13 L1352.35,111.11 L1352.60,111.10 L1352.75,111.09 M1481.75,180.09 L1490.75,178.88 L1502.00,186.07 L1512.50,193.57 L1526.00,198.81 L1541.00,195.04 L1559.00,184.53 L1578.50,173.27 L1598.75,164.70" stroke="#edb120"/>
<path d="M1219.38,117.88 L1219.40,117.87 L1242.12,113.22 L1288.10,98.67 L1292.12,97.35 L1305.88,99.69 L1317.75,107.18 L1327.75,111.69 L1337.12,113.83 M1502.00,190.57 L1512.50,197.32 L1526.00,203.76 L1541.00,203.74 L1559.00,196.53 L1578.50,188.27 L1598.75,182.25" stroke="#4dbeee"/>
<path d="M1219.38,105.50 L1219.40,105.50 L1242.12,104.34 L1288.10,95.19 L1292.12,94.35 L1305.88,98.44 L1317.75,106.18 M1512.50,201.07 L1526.00,208.26 L1541.00,210.04 L1559.00,206.28 L1578.50,200.27 L1598.75,196.50" stroke="#000000"/>
<path d="M1219.38,98.50 L1219.40,98.50 L1242.12,99.09 L1288.10,93.62 L1292.12,93.10 L1305.88,97.82 L1317.75,106.18 L1327.75,111.31 L1337.12,113.83 L1345.25,110.86 L1348.10,110.97 L1350.10,111.03 L1350.35,111.03 L1350.60,111.04 L1350.85,111.04 L1351.10,111.05 L1351.35,111.06 L1351.60,111.06 L1351.85,111.07 L1352.10,111.07 L1352.35,111.08 L1352.60,111.09 L1352.75,111.09 L1352.85,111.12 L1353.10,111.20 L1353.35,111.27 L1353.60,111.35 L1353.85,111.43 L1354.10,111.50 L1354.35,111.58 L1354.60,111.66 L1354.85,111.73 L1355.10,111.81 L1355.35,111.88 L1355.60,111.95 L1355.85,112.03 L1356.10,112.10 L1356.35,112.18 L1356.60,112.25 L1356.85,112.32 L1357.10,112.39 L1357.35,112.47 L1357.60,112.54 L1357.85,112.61 L1358.10,112.68 L1358.35,112.75 L1358.60,112.82 L1358.85,112.89 L1359.10,112.96 L1359.35,113.02 L1359.60,113.08 L1359.85,113.13 L1360.10,113.17 L1360.35,113.21 L1360.60,113.24 L1360.85,113.27 L1361.10,113.30 L1361.35,113.33 L1361.60,113.35 L1361.85,113.38 L1362.10,113.40 L1362.35,113.43 L1362.60,113.46 L1362.85,113.50 L1363.10,113.54 L1363.35,113.59 L1363.60,113.64 L1363.85,113.70 L1364.10,113.77 L1364.35,113.84 L1364.60,113.93 L1364.85,114.03 L1365.10,114.13 L1365.25,114.19 L1365.35,114.35 L1365.60,114.74 L1365.85,115.13 L1366.10,115.52 L1366.35,115.92 L1366.60,116.31 L1366.85,116.71 L1367.10,117.10 L1367.35,117.48 L1367.60,117.87 L1367.85,118.24 L1368.10,118.61 L1368.35,118.98 L1368.60,119.34 L1368.85,119.70 L1369.10,120.06 L1369.35,120.42 L1369.60,120.78 L1369.85,121.14 L1370.10,121.50 L1370.35,121.85 L1370.60,122.21 L1370.85,122.56 L1371.10,122.92 L1371.35,123.27 L1371.50,123.48 L1371.60,123.63 L1371.85,123.99 L1372.10,124.35 L1372.35,124.71 L1372.60,125.07 L1372.85,125.43 L1373.10,125.79 L1373.35,126.14 L1373.60,126.50 L1373.85,126.86 L1374.10,127.21 L1374.35,127.57 L1374.60,127.92 L1374.85,128.28 L1375.10,128.63 L1375.35,128.99 L1375.60,129.34 L1375.85,129.69 L1376.10,130.05 L1376.35,130.40 L1376.60,130.75 L1376.85,131.10 L1377.10,131.46 L1377.35,131.80 L1377.60,132.15 L1377.75,132.35 L1384.00,138.40 L1389.20,139.50 L1394.30,137.40 L1399.50,134.30 L1401.00,136.40 L1402.10,143.60 L1403.10,159.10 L1403.80,170.00 L1407.10,495.80 L1408.60,170.00 L1409.30,71.30 L1409.60,51.50 L1411.10,61.00 L1412.90,81.60 L1414.50,112.60 L1416.00,138.40 L1417.60,146.70 L1419.60,149.80 L1425.30,150.30 L1430.50,151.90 L1435.60,156.00 L1439.80,162.20 L1444.00,170.00 L1448.00,181.72 L1455.50,198.92 L1460.00,201.15 L1466.00,200.36 L1468.10,197.62 L1473.50,190.60 L1481.75,180.09 L1490.75,179.78 L1502.00,190.57 L1512.50,201.07 L1526.00,209.76 L1541.00,211.84 L1559.00,209.28 L1578.50,205.22 L1598.75,203.25" stroke="#77ac30"/>
<line x1="1455.50" y1="40.50" x2="1455.50" y2="566.30" stroke="#000" stroke-width="2.8" stroke-dasharray="7.25 6.627"/>
</g>
<text x="1164.85" y="46.55" style="font-family:'Liberation Sans',sans-serif;font-weight:bold;font-size:29.8px" fill="#262626" stroke="#262626" stroke-width="0.45" >0.1</text>
<text x="1191.55" y="157.95" style="font-family:'Liberation Sans',sans-serif;font-weight:bold;font-size:29.8px" fill="#262626" stroke="#262626" stroke-width="0.45" >0</text>
<text x="1146.25" y="269.75" style="font-family:'Liberation Sans',sans-serif;font-weight:bold;font-size:29.8px" fill="#262626" stroke="#262626" stroke-width="0.45" >-0.1</text>
<text x="1146.25" y="381.55" style="font-family:'Liberation Sans',sans-serif;font-weight:bold;font-size:29.8px" fill="#262626" stroke="#262626" stroke-width="0.45" >-0.2</text>
<text x="1146.25" y="493.35" style="font-family:'Liberation Sans',sans-serif;font-weight:bold;font-size:29.8px" fill="#262626" stroke="#262626" stroke-width="0.45" >-0.3</text>
<text x="1199.25" y="597.30" style="font-family:'Liberation Sans',sans-serif;font-weight:bold;font-size:29.8px" fill="#262626" stroke="#262626" stroke-width="0.45" >-1</text>
<text x="1399.03" y="597.30" style="font-family:'Liberation Sans',sans-serif;font-weight:bold;font-size:29.8px" fill="#262626" stroke="#262626" stroke-width="0.45" >0</text>
<text x="1588.10" y="597.30" style="font-family:'Liberation Sans',sans-serif;font-weight:bold;font-size:29.8px" fill="#262626" stroke="#262626" stroke-width="0.45" >1</text>
<text><tspan x="1522.15" y="647.95" style="font-family:'Liberation Serif',serif;font-size:38px" fill="#262626" stroke="#262626" stroke-width="0.5">×</tspan><tspan x="1544.80" y="642.00" style="font-family:'Liberation Sans',sans-serif;font-weight:bold;font-size:29.8px" fill="#262626" stroke="#262626" stroke-width="0.45">10 </tspan><tspan x="1582.60" y="628.90" style="font-family:'Liberation Sans',sans-serif;font-weight:bold;font-size:23.6px" fill="#262626" stroke="#262626" stroke-width="0.45">5</tspan></text>
<text><tspan x="1341.13" y="645.30" style="font-family:'Liberation Sans',sans-serif;font-weight:bold;font-size:31.8px" fill="#262626" stroke="#262626" stroke-width="0.45">q</tspan><tspan x="1362.79" y="645.30" style="font-family:'Liberation Serif',serif;font-style:italic;font-size:31.8px" fill="#262626" textLength="24.44" lengthAdjust="spacingAndGlyphs">ω</tspan><tspan x="1384.83" y="660.40" style="font-family:'Liberation Sans',sans-serif;font-weight:bold;font-size:25px" fill="#262626" stroke="#262626" stroke-width="0.45">E</tspan><tspan x="1399.98" y="645.30" style="font-family:'Liberation Sans',sans-serif;font-weight:bold;font-size:31.8px" fill="#262626" stroke="#262626" stroke-width="0.45">(s</tspan><tspan x="1430.58" y="629.40" style="font-family:'Liberation Sans',sans-serif;font-weight:bold;font-size:25px" fill="#262626" stroke="#262626" stroke-width="0.45">-1 </tspan><tspan x="1465.38" y="645.30" style="font-family:'Liberation Sans',sans-serif;font-weight:bold;font-size:31.8px" fill="#262626" stroke="#262626" stroke-width="0.45">)</tspan></text>
<text transform="translate(1122.00,298.95) rotate(-90)"><tspan x="-96.55" y="0.00" style="font-family:'Liberation Sans',sans-serif;font-weight:bold;font-size:31.8px" fill="#262626" stroke="#262626" stroke-width="0.45">T</tspan><tspan x="-74.15" y="14.90" style="font-family:'Liberation Sans',sans-serif;font-weight:bold;font-size:24.8px" fill="#262626" stroke="#262626" stroke-width="0.45">NTV</tspan><tspan x="-20.10" y="0.00" style="font-family:'Liberation Sans',sans-serif;font-weight:bold;font-size:31.8px" fill="#262626" stroke="#262626" stroke-width="0.45">(N/m </tspan><tspan x="67.35" y="-15.00" style="font-family:'Liberation Sans',sans-serif;font-weight:bold;font-size:24.8px" fill="#262626" stroke="#262626" stroke-width="0.45">2</tspan><tspan x="85.10" y="0.00" style="font-family:'Liberation Sans',sans-serif;font-weight:bold;font-size:31.8px" fill="#262626" stroke="#262626" stroke-width="0.45">)</tspan></text>
<text><tspan x="1222.25" y="22.80" style="font-family:'Liberation Sans',sans-serif;font-weight:bold;font-size:31.8px" fill="#000" stroke="#000" stroke-width="0.45">total,phasing-ep, </tspan><tspan x="1506.25" y="22.80" style="font-family:'Liberation Serif',serif;font-style:italic;font-size:32px" fill="#000" stroke="#000" stroke-width="0.6">ρ</tspan><tspan x="1521.00" y="22.80" style="font-family:'Liberation Sans',sans-serif;font-weight:bold;font-size:31.8px" fill="#000" stroke="#000" stroke-width="0.45">=0.3</tspan></text>
<text><tspan x="1145.40" y="110.90" style="font-family:'Liberation Serif',serif;font-size:46px" fill="#000" stroke="#000" stroke-width="0.5">(</tspan><tspan x="1162.44" y="110.40" style="font-family:'Liberation Serif',serif;font-weight:bold;font-size:42px" fill="#000" textLength="19.95" lengthAdjust="spacingAndGlyphs">c</tspan><tspan x="1183.95" y="110.90" style="font-family:'Liberation Serif',serif;font-size:46px" fill="#000" stroke="#000" stroke-width="0.5">)</tspan></text>
<rect x="1486.60" y="317.50" width="98.2" height="225" fill="#fff" stroke="#262626" stroke-width="0.85"/>
<line x1="1490.30" y1="334.50" x2="1524.90" y2="334.50" stroke="#0000ff" stroke-width="2.4"/>
<text x="1527.45" y="343.80" style="font-family:'Liberation Sans',sans-serif;font-weight:bold;font-size:26.1px" fill="#000" stroke="#000" stroke-width="0.45" >L=0</text>
<line x1="1490.30" y1="366.20" x2="1524.90" y2="366.20" stroke="#ff0000" stroke-width="2.4"/>
<text x="1527.45" y="375.50" style="font-family:'Liberation Sans',sans-serif;font-weight:bold;font-size:26.1px" fill="#000" stroke="#000" stroke-width="0.45" >L=1</text>
<line x1="1490.30" y1="397.90" x2="1524.90" y2="397.90" stroke="#ff00ff" stroke-width="2.4"/>
<text x="1527.45" y="407.20" style="font-family:'Liberation Sans',sans-serif;font-weight:bold;font-size:26.1px" fill="#000" stroke="#000" stroke-width="0.45" >L=2</text>
<line x1="1490.30" y1="429.60" x2="1524.90" y2="429.60" stroke="#edb120" stroke-width="2.4"/>
<text x="1527.45" y="438.90" style="font-family:'Liberation Sans',sans-serif;font-weight:bold;font-size:26.1px" fill="#000" stroke="#000" stroke-width="0.45" >L=3</text>
<line x1="1490.30" y1="461.30" x2="1524.90" y2="461.30" stroke="#4dbeee" stroke-width="2.4"/>
<text x="1527.45" y="470.60" style="font-family:'Liberation Sans',sans-serif;font-weight:bold;font-size:26.1px" fill="#000" stroke="#000" stroke-width="0.45" >L=4</text>
<line x1="1490.30" y1="493.00" x2="1524.90" y2="493.00" stroke="#000000" stroke-width="2.4"/>
<text x="1527.45" y="502.30" style="font-family:'Liberation Sans',sans-serif;font-weight:bold;font-size:26.1px" fill="#000" stroke="#000" stroke-width="0.45" >L=5</text>
<line x1="1490.30" y1="524.70" x2="1524.90" y2="524.70" stroke="#77ac30" stroke-width="2.4"/>
<text x="1527.45" y="534.00" style="font-family:'Liberation Sans',sans-serif;font-weight:bold;font-size:26.1px" fill="#000" stroke="#000" stroke-width="0.45" >L=6</text>
<rect x="131.30" y="731.20" width="379.15" height="525.00" fill="none" stroke="#262626" stroke-width="0.85"/>
<path d="M131.30,1256.20v-5.3 M131.30,731.20v5.3 M320.88,1256.20v-5.3 M320.88,731.20v5.3 M510.45,1256.20v-5.3 M510.45,731.20v5.3 M131.30,801.20h5.3 M510.45,801.20h-5.3 M131.30,871.20h5.3 M510.45,871.20h-5.3 M131.30,941.20h5.3 M510.45,941.20h-5.3 M131.30,1011.20h5.3 M510.45,1011.20h-5.3 M131.30,1081.20h5.3 M510.45,1081.20h-5.3 M131.30,1151.20h5.3 M510.45,1151.20h-5.3 M131.30,1221.20h5.3 M510.45,1221.20h-5.3" stroke="#262626" stroke-width="0.85" fill="none"/>
<g clip-path="url(#cp10)" fill="none" stroke-width="2.8" stroke-linejoin="round" stroke-linecap="butt">
<path d="M131.30,868.00 L200.00,867.00 L260.00,865.90 L279.20,864.70 L280.00,864.65 L280.25,864.63 L280.50,864.61 L280.75,864.59 L281.00,864.58 L281.25,864.56 L281.50,864.54 L281.75,864.52 L282.00,864.50 L282.25,864.49 L282.50,864.47 L282.75,864.45 L283.00,864.43 L283.25,864.42 L283.50,864.40 L283.75,864.38 L284.00,864.36 L284.25,864.34 L284.50,864.32 L284.75,864.31 L285.00,864.29 L285.25,864.27 L285.50,864.25 L285.75,864.23 L286.00,864.21 L286.25,864.19 L286.50,864.17 L286.75,864.15 L287.00,864.14 L287.25,864.12 L287.50,864.10 L287.75,864.08 L288.00,864.06 L288.25,864.04 L288.50,864.02 L288.75,864.00 L289.00,863.98 L289.25,863.96 L289.50,863.94 L289.75,863.92 L290.00,863.90 L290.25,863.88 L290.50,863.86 L290.75,863.84 L291.00,863.82 L291.25,863.81 L291.50,863.79 L291.75,863.77 L292.00,863.75 L292.25,863.74 L292.50,863.72 L292.75,863.70 L293.00,863.68 L293.25,863.67 L293.50,863.65 L293.75,863.63 L294.00,863.61 L294.25,863.59 L294.50,863.57 L294.75,863.55 L295.00,863.53 L295.25,863.51 L295.50,863.49 L295.75,863.46 L296.00,863.44 L296.25,863.41 L296.50,863.39 L296.75,863.36 L297.00,863.33 L297.25,863.30 L297.50,863.27 L297.75,863.23 L298.00,863.20 L298.25,863.16 L298.50,863.12 L298.75,863.07 L299.00,863.01 L299.25,862.95 L299.50,862.89 L299.75,862.82 L300.00,862.75 L300.25,862.68 L300.50,862.60 L300.75,862.51 L301.00,862.43 L301.25,862.34 L301.50,862.25 L301.75,862.15 L302.00,862.06 L302.25,861.96 L302.50,861.86 L302.75,861.75 L303.00,861.64 L303.25,861.52 L303.50,861.39 L303.75,861.26 L304.00,861.12 L304.25,860.98 L304.50,860.83 L304.75,860.67 L305.00,860.51 L305.25,860.34 L305.50,860.17 L305.75,859.99 L306.00,859.81 L306.25,859.63 L306.50,859.43 L306.75,859.24 L307.00,859.04 L307.25,858.83 L307.50,858.60 L307.75,858.37 L308.00,858.13 L308.25,857.87 L308.50,857.61 L308.75,857.34 L309.00,857.05 L309.25,856.76 L309.50,856.46 L309.75,856.15 L310.00,855.83 L310.25,855.50 L310.50,855.16 L310.75,854.81 L311.00,854.44 L311.25,854.05 L311.50,853.64 L311.75,853.21 L312.00,852.77 L312.25,852.30 L312.50,851.82 L312.75,851.32 L313.00,850.80 L313.25,850.26 L313.50,849.70 L313.75,849.10 L314.00,848.48 L314.25,847.83 L314.50,847.13 L314.75,846.39 L315.00,845.61 L315.25,844.77 L315.50,843.88 L315.75,842.89 L316.00,841.80 L316.25,840.61 L316.50,839.31 L316.75,837.90 L317.00,836.28 L317.25,834.36 L317.50,832.24 L317.75,830.03 L318.00,827.82 L318.25,825.57 L318.50,823.23 L318.75,820.76 L319.00,818.10 L319.25,815.19 L319.50,812.02 L319.75,808.67 L320.00,805.19 L320.25,801.51 L320.50,797.62 L320.75,793.44 L321.00,788.91 L321.25,784.53 L321.50,779.98 L321.75,777.01 L322.00,775.39 L322.25,774.40 L322.50,773.97 L322.75,773.65 L323.00,773.45 L323.20,773.40 L323.25,773.41 L323.50,773.70 L323.75,774.33 L324.00,775.21 L324.25,776.47 L324.50,778.89 L324.75,782.03 L325.00,786.02 L325.25,791.17 L325.50,796.10 L325.75,800.80 L326.00,805.61 L326.25,810.68 L326.50,815.95 L326.75,821.42 L327.00,827.09 L327.25,832.42 L327.50,837.44 L327.75,842.10 L328.00,846.15 L328.25,849.83 L328.50,853.09 L328.75,855.80 L329.00,858.14 L329.25,860.22 L329.50,862.00 L329.75,863.47 L330.00,864.76 L330.25,865.91 L330.50,866.91 L330.75,867.72 L331.00,868.32 L331.25,868.84 L331.50,869.30 L331.75,869.71 L332.00,870.08 L332.25,870.41 L332.50,870.70 L332.75,870.96 L333.00,871.20 L333.25,871.42 L333.50,871.62 L333.75,871.82 L334.00,872.00 L334.25,872.17 L334.50,872.33 L334.75,872.48 L335.00,872.62 L335.25,872.75 L335.50,872.87 L335.75,872.98 L336.00,873.08 L336.25,873.18 L336.50,873.27 L336.75,873.36 L337.00,873.44 L337.25,873.52 L337.50,873.60 L337.75,873.67 L338.00,873.74 L338.25,873.81 L338.50,873.88 L338.75,873.94 L339.00,874.00 L339.25,874.06 L339.50,874.11 L339.75,874.16 L340.00,874.21 L340.25,874.26 L340.50,874.30 L340.75,874.34 L341.00,874.39 L341.25,874.43 L341.50,874.47 L341.75,874.51 L342.00,874.55 L342.25,874.59 L342.50,874.63 L342.75,874.67 L343.00,874.71 L343.25,874.75 L343.50,874.79 L343.75,874.82 L344.00,874.86 L344.25,874.89 L344.50,874.92 L344.75,874.95 L345.00,874.98 L345.25,875.01 L345.50,875.04 L345.75,875.06 L346.00,875.09 L346.25,875.11 L346.50,875.13 L346.75,875.14 L347.00,875.16 L347.25,875.17 L347.50,875.18 L347.75,875.19 L348.00,875.20 L367.00,875.40 L380.00,875.50 L440.00,875.00 L510.70,873.80" stroke="#77ac30"/>
<line x1="367.40" y1="735.40" x2="367.40" y2="1261.20" stroke="#000" stroke-width="2.8" stroke-dasharray="7.25 6.627"/>
</g>
<text x="76.75" y="811.45" style="font-family:'Liberation Sans',sans-serif;font-weight:bold;font-size:29.8px" fill="#262626" stroke="#262626" stroke-width="0.45" >0.2</text>
<text x="103.45" y="881.45" style="font-family:'Liberation Sans',sans-serif;font-weight:bold;font-size:29.8px" fill="#262626" stroke="#262626" stroke-width="0.45" >0</text>
<text x="58.15" y="951.45" style="font-family:'Liberation Sans',sans-serif;font-weight:bold;font-size:29.8px" fill="#262626" stroke="#262626" stroke-width="0.45" >-0.2</text>
<text x="58.15" y="1021.45" style="font-family:'Liberation Sans',sans-serif;font-weight:bold;font-size:29.8px" fill="#262626" stroke="#262626" stroke-width="0.45" >-0.4</text>
<text x="58.15" y="1091.45" style="font-family:'Liberation Sans',sans-serif;font-weight:bold;font-size:29.8px" fill="#262626" stroke="#262626" stroke-width="0.45" >-0.6</text>
<text x="58.15" y="1161.45" style="font-family:'Liberation Sans',sans-serif;font-weight:bold;font-size:29.8px" fill="#262626" stroke="#262626" stroke-width="0.45" >-0.8</text>
<text x="84.25" y="1231.45" style="font-family:'Liberation Sans',sans-serif;font-weight:bold;font-size:29.8px" fill="#262626" stroke="#262626" stroke-width="0.45" >-1</text>
<text x="111.15" y="1292.20" style="font-family:'Liberation Sans',sans-serif;font-weight:bold;font-size:29.8px" fill="#262626" stroke="#262626" stroke-width="0.45" >-1</text>
<text x="310.93" y="1292.20" style="font-family:'Liberation Sans',sans-serif;font-weight:bold;font-size:29.8px" fill="#262626" stroke="#262626" stroke-width="0.45" >0</text>
<text x="500.00" y="1292.20" style="font-family:'Liberation Sans',sans-serif;font-weight:bold;font-size:29.8px" fill="#262626" stroke="#262626" stroke-width="0.45" >1</text>
<text><tspan x="434.05" y="1342.85" style="font-family:'Liberation Serif',serif;font-size:38px" fill="#262626" stroke="#262626" stroke-width="0.5">×</tspan><tspan x="456.70" y="1336.90" style="font-family:'Liberation Sans',sans-serif;font-weight:bold;font-size:29.8px" fill="#262626" stroke="#262626" stroke-width="0.45">10 </tspan><tspan x="494.50" y="1323.80" style="font-family:'Liberation Sans',sans-serif;font-weight:bold;font-size:23.6px" fill="#262626" stroke="#262626" stroke-width="0.45">5</tspan></text>
<text><tspan x="253.03" y="1340.20" style="font-family:'Liberation Sans',sans-serif;font-weight:bold;font-size:31.8px" fill="#262626" stroke="#262626" stroke-width="0.45">q</tspan><tspan x="274.69" y="1340.20" style="font-family:'Liberation Serif',serif;font-style:italic;font-size:31.8px" fill="#262626" textLength="24.44" lengthAdjust="spacingAndGlyphs">ω</tspan><tspan x="296.73" y="1355.30" style="font-family:'Liberation Sans',sans-serif;font-weight:bold;font-size:25px" fill="#262626" stroke="#262626" stroke-width="0.45">E</tspan><tspan x="311.88" y="1340.20" style="font-family:'Liberation Sans',sans-serif;font-weight:bold;font-size:31.8px" fill="#262626" stroke="#262626" stroke-width="0.45">(s</tspan><tspan x="342.48" y="1324.30" style="font-family:'Liberation Sans',sans-serif;font-weight:bold;font-size:25px" fill="#262626" stroke="#262626" stroke-width="0.45">-1 </tspan><tspan x="377.27" y="1340.20" style="font-family:'Liberation Sans',sans-serif;font-weight:bold;font-size:31.8px" fill="#262626" stroke="#262626" stroke-width="0.45">)</tspan></text>
<text transform="translate(33.90,993.85) rotate(-90)"><tspan x="-96.55" y="0.00" style="font-family:'Liberation Sans',sans-serif;font-weight:bold;font-size:31.8px" fill="#262626" stroke="#262626" stroke-width="0.45">T</tspan><tspan x="-74.15" y="14.90" style="font-family:'Liberation Sans',sans-serif;font-weight:bold;font-size:24.8px" fill="#262626" stroke="#262626" stroke-width="0.45">NTV</tspan><tspan x="-20.10" y="0.00" style="font-family:'Liberation Sans',sans-serif;font-weight:bold;font-size:31.8px" fill="#262626" stroke="#262626" stroke-width="0.45">(N/m </tspan><tspan x="67.35" y="-15.00" style="font-family:'Liberation Sans',sans-serif;font-weight:bold;font-size:24.8px" fill="#262626" stroke="#262626" stroke-width="0.45">2</tspan><tspan x="85.10" y="0.00" style="font-family:'Liberation Sans',sans-serif;font-weight:bold;font-size:31.8px" fill="#262626" stroke="#262626" stroke-width="0.45">)</tspan></text>
<text><tspan x="104.25" y="717.70" style="font-family:'Liberation Sans',sans-serif;font-weight:bold;font-size:31.8px" fill="#000" stroke="#000" stroke-width="0.45">electron,phasing-ck, </tspan><tspan x="445.25" y="717.70" style="font-family:'Liberation Serif',serif;font-style:italic;font-size:32px" fill="#000" stroke="#000" stroke-width="0.6">ρ</tspan><tspan x="461.00" y="717.70" style="font-family:'Liberation Sans',sans-serif;font-weight:bold;font-size:31.8px" fill="#000" stroke="#000" stroke-width="0.45">=0.3</tspan></text>
<text><tspan x="57.40" y="764.50" style="font-family:'Liberation Serif',serif;font-size:46px" fill="#000" stroke="#000" stroke-width="0.5">(</tspan><tspan x="74.46" y="764.00" style="font-family:'Liberation Serif',serif;font-weight:bold;font-size:42px" fill="#000" textLength="24.99" lengthAdjust="spacingAndGlyphs">d</tspan><tspan x="102.15" y="764.50" style="font-family:'Liberation Serif',serif;font-size:46px" fill="#000" stroke="#000" stroke-width="0.5">)</tspan></text>
<rect x="398.50" y="1012.40" width="98.2" height="225" fill="#fff" stroke="#262626" stroke-width="0.85"/>
<line x1="402.20" y1="1029.40" x2="436.80" y2="1029.40" stroke="#0000ff" stroke-width="2.4"/>
<text x="439.35" y="1038.70" style="font-family:'Liberation Sans',sans-serif;font-weight:bold;font-size:26.1px" fill="#000" stroke="#000" stroke-width="0.45" >L=0</text>
<line x1="402.20" y1="1061.10" x2="436.80" y2="1061.10" stroke="#ff0000" stroke-width="2.4"/>
<text x="439.35" y="1070.40" style="font-family:'Liberation Sans',sans-serif;font-weight:bold;font-size:26.1px" fill="#000" stroke="#000" stroke-width="0.45" >L=1</text>
<line x1="402.20" y1="1092.80" x2="436.80" y2="1092.80" stroke="#ff00ff" stroke-width="2.4"/>
<text x="439.35" y="1102.10" style="font-family:'Liberation Sans',sans-serif;font-weight:bold;font-size:26.1px" fill="#000" stroke="#000" stroke-width="0.45" >L=2</text>
<line x1="402.20" y1="1124.50" x2="436.80" y2="1124.50" stroke="#edb120" stroke-width="2.4"/>
<text x="439.35" y="1133.80" style="font-family:'Liberation Sans',sans-serif;font-weight:bold;font-size:26.1px" fill="#000" stroke="#000" stroke-width="0.45" >L=3</text>
<line x1="402.20" y1="1156.20" x2="436.80" y2="1156.20" stroke="#4dbeee" stroke-width="2.4"/>
<text x="439.35" y="1165.50" style="font-family:'Liberation Sans',sans-serif;font-weight:bold;font-size:26.1px" fill="#000" stroke="#000" stroke-width="0.45" >L=4</text>
<line x1="402.20" y1="1187.90" x2="436.80" y2="1187.90" stroke="#000000" stroke-width="2.4"/>
<text x="439.35" y="1197.20" style="font-family:'Liberation Sans',sans-serif;font-weight:bold;font-size:26.1px" fill="#000" stroke="#000" stroke-width="0.45" >L=5</text>
<line x1="402.20" y1="1219.60" x2="436.80" y2="1219.60" stroke="#77ac30" stroke-width="2.4"/>
<text x="439.35" y="1228.90" style="font-family:'Liberation Sans',sans-serif;font-weight:bold;font-size:26.1px" fill="#000" stroke="#000" stroke-width="0.45" >L=6</text>
<rect x="675.40" y="731.20" width="379.15" height="525.00" fill="none" stroke="#262626" stroke-width="0.85"/>
<path d="M675.40,1256.20v-5.3 M675.40,731.20v5.3 M864.97,1256.20v-5.3 M864.97,731.20v5.3 M1054.55,1256.20v-5.3 M1054.55,731.20v5.3 M675.40,801.20h5.3 M1054.55,801.20h-5.3 M675.40,871.20h5.3 M1054.55,871.20h-5.3 M675.40,941.20h5.3 M1054.55,941.20h-5.3 M675.40,1011.20h5.3 M1054.55,1011.20h-5.3 M675.40,1081.20h5.3 M1054.55,1081.20h-5.3 M675.40,1151.20h5.3 M1054.55,1151.20h-5.3 M675.40,1221.20h5.3 M1054.55,1221.20h-5.3" stroke="#262626" stroke-width="0.85" fill="none"/>
<g clip-path="url(#cp11)" fill="none" stroke-width="2.8" stroke-linejoin="round" stroke-linecap="butt">
<path d="M675.38,871.00 L855.00,871.00 M869.40,883.20 L871.00,877.90 L872.50,874.60 L874.40,872.30 L877.00,871.50 L885.00,871.20 L1054.50,871.00" stroke="#0000ff"/>
<path d="M675.38,871.00 L748.12,870.50 L761.88,869.75 L773.75,867.75 L783.75,861.25 L793.12,850.00 L801.25,837.50 L808.12,828.12 L815.00,825.62 L821.25,830.00 L827.50,841.25 L833.75,852.50 M907.38,936.25 L911.50,944.50 L914.94,950.00 L921.81,942.44 L929.38,917.00 L936.94,892.25 L945.88,877.13 L956.88,872.73 L968.56,871.63 L991.25,871.35 L1054.50,871.35" stroke="#ff0000"/>
<path d="M675.38,869.38 L697.50,866.25 L716.25,858.75 L733.75,846.25 L748.12,834.38 L761.88,829.00 L773.75,828.12 L783.75,827.88 L793.12,825.62 L801.25,820.62 L808.12,817.50 L815.00,820.00 L821.25,825.00 M911.50,952.75 L914.94,958.25 L921.81,958.25 L929.38,943.13 L936.94,927.31 L945.88,922.23 L956.88,924.56 L968.56,922.91 L982.31,912.19 L997.44,896.38 L1013.94,882.63 L1033.19,874.38 L1054.50,872.31" stroke="#ff00ff"/>
<path d="M675.38,843.75 L697.50,828.75 L716.25,813.75 L733.75,802.50 L748.12,797.50 L761.88,800.62 L773.75,809.38 L783.75,816.50 L793.12,819.38 L801.25,817.75 L808.12,814.62 M929.38,948.63 L936.94,934.19 L945.88,934.88 L956.88,945.88 L968.56,956.19 L982.31,958.94 L997.44,953.44 L1013.94,941.06 L1033.19,922.50 L1054.50,903.25" stroke="#edb120"/>
<path d="M675.38,808.12 L697.50,794.38 L716.25,784.38 L733.75,781.00 L748.12,783.12 L761.88,792.50 L773.75,803.75 L783.75,813.75 L793.12,816.50 M956.88,954.13 L968.56,964.44 L982.31,973.38 L997.44,975.44 L1013.94,971.31 L1033.19,960.31 L1054.50,943.81" stroke="#4dbeee"/>
<path d="M675.38,777.25 L697.50,770.00 L716.25,767.25 L733.75,770.00 L748.12,776.25 L761.88,788.12 L773.75,801.25 M968.56,969.94 L982.31,980.25 L997.44,987.81 L1013.94,990.56 L1033.19,987.81 L1054.50,978.19" stroke="#000000"/>
<path d="M675.38,760.00 L697.50,758.12 L716.25,760.00 L733.75,765.62 L748.12,773.75 L761.88,786.88 L773.75,801.25 L783.75,811.88 L793.12,816.50 L808.12,814.62 L815.00,818.12 L821.25,825.00 L827.50,838.75 L833.75,852.50 L838.75,861.25 L843.75,866.25 L848.75,868.75 L853.75,870.25 L855.00,870.80 L856.60,874.80 L857.50,883.20 L858.10,892.00 L858.80,903.10 L859.10,910.00 L859.70,936.30 L860.60,977.50 L861.00,1020.00 L861.50,1100.00 L862.70,1256.00 L863.20,1300.00 L863.60,1256.00 L864.40,1100.00 L864.50,1020.00 L864.75,936.00 L865.40,910.00 L865.50,898.70 L865.60,893.40 L867.20,896.50 L868.30,889.80 L869.40,883.20 L871.00,877.90 L873.60,874.80 L877.60,873.70 L882.00,874.10 L886.50,876.10 L890.00,880.10 L893.10,885.40 L896.20,892.50 L900.00,905.30 L901.88,912.88 L907.38,936.25 L911.50,952.75 L914.94,961.00 L921.81,961.00 L929.38,948.63 L936.94,936.25 L945.88,938.31 L956.88,954.13 L968.56,969.94 L982.31,983.00 L997.44,991.94 L1013.94,997.44 L1033.19,999.50 L1054.50,995.38" stroke="#77ac30"/>
<line x1="911.50" y1="735.40" x2="911.50" y2="1261.20" stroke="#000" stroke-width="2.8" stroke-dasharray="7.25 6.627"/>
</g>
<text x="620.85" y="811.45" style="font-family:'Liberation Sans',sans-serif;font-weight:bold;font-size:29.8px" fill="#262626" stroke="#262626" stroke-width="0.45" >0.2</text>
<text x="647.55" y="881.45" style="font-family:'Liberation Sans',sans-serif;font-weight:bold;font-size:29.8px" fill="#262626" stroke="#262626" stroke-width="0.45" >0</text>
<text x="602.25" y="951.45" style="font-family:'Liberation Sans',sans-serif;font-weight:bold;font-size:29.8px" fill="#262626" stroke="#262626" stroke-width="0.45" >-0.2</text>
<text x="602.25" y="1021.45" style="font-family:'Liberation Sans',sans-serif;font-weight:bold;font-size:29.8px" fill="#262626" stroke="#262626" stroke-width="0.45" >-0.4</text>
<text x="602.25" y="1091.45" style="font-family:'Liberation Sans',sans-serif;font-weight:bold;font-size:29.8px" fill="#262626" stroke="#262626" stroke-width="0.45" >-0.6</text>
<text x="602.25" y="1161.45" style="font-family:'Liberation Sans',sans-serif;font-weight:bold;font-size:29.8px" fill="#262626" stroke="#262626" stroke-width="0.45" >-0.8</text>
<text x="628.35" y="1231.45" style="font-family:'Liberation Sans',sans-serif;font-weight:bold;font-size:29.8px" fill="#262626" stroke="#262626" stroke-width="0.45" >-1</text>
<text x="655.25" y="1292.20" style="font-family:'Liberation Sans',sans-serif;font-weight:bold;font-size:29.8px" fill="#262626" stroke="#262626" stroke-width="0.45" >-1</text>
<text x="855.02" y="1292.20" style="font-family:'Liberation Sans',sans-serif;font-weight:bold;font-size:29.8px" fill="#262626" stroke="#262626" stroke-width="0.45" >0</text>
<text x="1044.10" y="1292.20" style="font-family:'Liberation Sans',sans-serif;font-weight:bold;font-size:29.8px" fill="#262626" stroke="#262626" stroke-width="0.45" >1</text>
<text><tspan x="978.15" y="1342.85" style="font-family:'Liberation Serif',serif;font-size:38px" fill="#262626" stroke="#262626" stroke-width="0.5">×</tspan><tspan x="1000.80" y="1336.90" style="font-family:'Liberation Sans',sans-serif;font-weight:bold;font-size:29.8px" fill="#262626" stroke="#262626" stroke-width="0.45">10 </tspan><tspan x="1038.60" y="1323.80" style="font-family:'Liberation Sans',sans-serif;font-weight:bold;font-size:23.6px" fill="#262626" stroke="#262626" stroke-width="0.45">5</tspan></text>
<text><tspan x="797.12" y="1340.20" style="font-family:'Liberation Sans',sans-serif;font-weight:bold;font-size:31.8px" fill="#262626" stroke="#262626" stroke-width="0.45">q</tspan><tspan x="818.78" y="1340.20" style="font-family:'Liberation Serif',serif;font-style:italic;font-size:31.8px" fill="#262626" textLength="24.44" lengthAdjust="spacingAndGlyphs">ω</tspan><tspan x="840.82" y="1355.30" style="font-family:'Liberation Sans',sans-serif;font-weight:bold;font-size:25px" fill="#262626" stroke="#262626" stroke-width="0.45">E</tspan><tspan x="855.97" y="1340.20" style="font-family:'Liberation Sans',sans-serif;font-weight:bold;font-size:31.8px" fill="#262626" stroke="#262626" stroke-width="0.45">(s</tspan><tspan x="886.57" y="1324.30" style="font-family:'Liberation Sans',sans-serif;font-weight:bold;font-size:25px" fill="#262626" stroke="#262626" stroke-width="0.45">-1 </tspan><tspan x="921.37" y="1340.20" style="font-family:'Liberation Sans',sans-serif;font-weight:bold;font-size:31.8px" fill="#262626" stroke="#262626" stroke-width="0.45">)</tspan></text>
<text transform="translate(578.00,993.85) rotate(-90)"><tspan x="-96.55" y="0.00" style="font-family:'Liberation Sans',sans-serif;font-weight:bold;font-size:31.8px" fill="#262626" stroke="#262626" stroke-width="0.45">T</tspan><tspan x="-74.15" y="14.90" style="font-family:'Liberation Sans',sans-serif;font-weight:bold;font-size:24.8px" fill="#262626" stroke="#262626" stroke-width="0.45">NTV</tspan><tspan x="-20.10" y="0.00" style="font-family:'Liberation Sans',sans-serif;font-weight:bold;font-size:31.8px" fill="#262626" stroke="#262626" stroke-width="0.45">(N/m </tspan><tspan x="67.35" y="-15.00" style="font-family:'Liberation Sans',sans-serif;font-weight:bold;font-size:24.8px" fill="#262626" stroke="#262626" stroke-width="0.45">2</tspan><tspan x="85.10" y="0.00" style="font-family:'Liberation Sans',sans-serif;font-weight:bold;font-size:31.8px" fill="#262626" stroke="#262626" stroke-width="0.45">)</tspan></text>
<text><tspan x="689.45" y="717.70" style="font-family:'Liberation Sans',sans-serif;font-weight:bold;font-size:31.8px" fill="#000" stroke="#000" stroke-width="0.45">ion,phasing-ck, </tspan><tspan x="948.25" y="717.70" style="font-family:'Liberation Serif',serif;font-style:italic;font-size:32px" fill="#000" stroke="#000" stroke-width="0.6">ρ</tspan><tspan x="964.60" y="717.70" style="font-family:'Liberation Sans',sans-serif;font-weight:bold;font-size:31.8px" fill="#000" stroke="#000" stroke-width="0.45">=0.3</tspan></text>
<text><tspan x="590.70" y="764.70" style="font-family:'Liberation Serif',serif;font-size:46px" fill="#000" stroke="#000" stroke-width="0.5">(</tspan><tspan x="608.38" y="764.20" style="font-family:'Liberation Serif',serif;font-weight:bold;font-size:42px" fill="#000" textLength="19.95" lengthAdjust="spacingAndGlyphs">e</tspan><tspan x="630.55" y="764.70" style="font-family:'Liberation Serif',serif;font-size:46px" fill="#000" stroke="#000" stroke-width="0.5">)</tspan></text>
<rect x="689.30" y="1012.40" width="98.2" height="225" fill="#fff" stroke="#262626" stroke-width="0.85"/>
<line x1="693.00" y1="1029.40" x2="727.60" y2="1029.40" stroke="#0000ff" stroke-width="2.4"/>
<text x="730.15" y="1038.70" style="font-family:'Liberation Sans',sans-serif;font-weight:bold;font-size:26.1px" fill="#000" stroke="#000" stroke-width="0.45" >L=0</text>
<line x1="693.00" y1="1061.10" x2="727.60" y2="1061.10" stroke="#ff0000" stroke-width="2.4"/>
<text x="730.15" y="1070.40" style="font-family:'Liberation Sans',sans-serif;font-weight:bold;font-size:26.1px" fill="#000" stroke="#000" stroke-width="0.45" >L=1</text>
<line x1="693.00" y1="1092.80" x2="727.60" y2="1092.80" stroke="#ff00ff" stroke-width="2.4"/>
<text x="730.15" y="1102.10" style="font-family:'Liberation Sans',sans-serif;font-weight:bold;font-size:26.1px" fill="#000" stroke="#000" stroke-width="0.45" >L=2</text>
<line x1="693.00" y1="1124.50" x2="727.60" y2="1124.50" stroke="#edb120" stroke-width="2.4"/>
<text x="730.15" y="1133.80" style="font-family:'Liberation Sans',sans-serif;font-weight:bold;font-size:26.1px" fill="#000" stroke="#000" stroke-width="0.45" >L=3</text>
<line x1="693.00" y1="1156.20" x2="727.60" y2="1156.20" stroke="#4dbeee" stroke-width="2.4"/>
<text x="730.15" y="1165.50" style="font-family:'Liberation Sans',sans-serif;font-weight:bold;font-size:26.1px" fill="#000" stroke="#000" stroke-width="0.45" >L=4</text>
<line x1="693.00" y1="1187.90" x2="727.60" y2="1187.90" stroke="#000000" stroke-width="2.4"/>
<text x="730.15" y="1197.20" style="font-family:'Liberation Sans',sans-serif;font-weight:bold;font-size:26.1px" fill="#000" stroke="#000" stroke-width="0.45" >L=5</text>
<line x1="693.00" y1="1219.60" x2="727.60" y2="1219.60" stroke="#77ac30" stroke-width="2.4"/>
<text x="730.15" y="1228.90" style="font-family:'Liberation Sans',sans-serif;font-weight:bold;font-size:26.1px" fill="#000" stroke="#000" stroke-width="0.45" >L=6</text>
<rect x="1219.40" y="731.20" width="379.15" height="525.00" fill="none" stroke="#262626" stroke-width="0.85"/>
<path d="M1219.40,1256.20v-5.3 M1219.40,731.20v5.3 M1408.98,1256.20v-5.3 M1408.98,731.20v5.3 M1598.55,1256.20v-5.3 M1598.55,731.20v5.3 M1219.40,801.20h5.3 M1598.55,801.20h-5.3 M1219.40,871.20h5.3 M1598.55,871.20h-5.3 M1219.40,941.20h5.3 M1598.55,941.20h-5.3 M1219.40,1011.20h5.3 M1598.55,1011.20h-5.3 M1219.40,1081.20h5.3 M1598.55,1081.20h-5.3 M1219.40,1151.20h5.3 M1598.55,1151.20h-5.3 M1219.40,1221.20h5.3 M1598.55,1221.20h-5.3" stroke="#262626" stroke-width="0.85" fill="none"/>
<g clip-path="url(#cp12)" fill="none" stroke-width="2.8" stroke-linejoin="round" stroke-linecap="butt">
<path d="M1219.40,867.60 L1288.10,866.60 L1348.10,865.50 L1367.30,864.30 L1368.10,864.25 L1368.35,864.23 L1368.60,864.21 L1368.85,864.19 L1369.10,864.18 L1369.35,864.16 L1369.60,864.14 L1369.85,864.12 L1370.10,864.10 L1370.35,864.09 L1370.60,864.07 L1370.85,864.05 L1371.10,864.03 L1371.35,864.02 L1371.60,864.00 L1371.85,863.98 L1372.10,863.96 L1372.35,863.94 L1372.60,863.92 L1372.85,863.91 L1373.10,863.89 L1373.35,863.87 L1373.60,863.85 L1373.85,863.83 L1374.10,863.81 L1374.35,863.79 L1374.60,863.77 L1374.85,863.75 L1375.10,863.74 L1375.35,863.72 L1375.60,863.70 L1375.85,863.68 L1376.10,863.66 L1376.35,863.64 L1376.60,863.62 L1376.85,863.60 L1377.10,863.58 L1377.35,863.56 L1377.60,863.54 L1377.85,863.52 L1378.10,863.50 L1378.35,863.48 L1378.60,863.46 L1378.85,863.44 L1379.10,863.42 L1379.35,863.41 L1379.60,863.39 L1379.85,863.37 L1380.10,863.35 L1380.35,863.34 L1380.60,863.32 L1380.85,863.30 L1381.10,863.28 L1381.35,863.27 L1381.60,863.25 L1381.85,863.23 L1382.10,863.21 L1382.35,863.19 L1382.60,863.17 L1382.85,863.15 L1383.10,863.13 L1383.35,863.11 L1383.60,863.09 L1383.85,863.06 L1384.10,863.04 L1384.35,863.01 L1384.60,862.99 L1384.85,862.96 L1385.10,862.93 L1385.35,862.90 L1385.60,862.87 L1385.85,862.83 L1386.10,862.80 L1386.35,862.76 L1386.60,862.72 L1386.85,862.67 L1387.10,862.61 L1387.35,862.55 L1387.60,862.49 L1387.85,862.42 L1388.10,862.35 L1388.35,862.28 L1388.60,862.20 L1388.85,862.11 L1389.10,862.03 L1389.35,861.94 L1389.60,861.85 L1389.85,861.75 L1390.10,861.66 L1390.35,861.56 L1390.60,861.46 L1390.85,861.35 L1391.10,861.24 L1391.35,861.12 L1391.60,860.99 L1391.85,860.86 L1392.10,860.72 L1392.35,860.58 L1392.60,860.43 L1392.85,860.27 L1393.10,860.11 L1393.35,859.94 L1393.60,859.77 L1393.85,859.59 L1394.10,859.41 L1394.30,859.00 M1419.10,871.90 L1422.35,871.77 L1422.60,871.93 L1422.85,872.08 L1423.10,872.22 L1423.35,872.35 L1423.60,872.47 L1423.85,872.58 L1424.10,872.68 L1424.35,872.78 L1424.60,872.87 L1424.85,872.96 L1425.10,873.04 L1425.35,873.12 L1425.60,873.20 L1425.85,873.27 L1426.10,873.34 L1426.35,873.41 L1426.60,873.48 L1426.85,873.54 L1427.10,873.60 L1427.35,873.66 L1427.60,873.71 L1427.85,873.76 L1428.10,873.81 L1428.35,873.86 L1428.60,873.90 L1428.85,873.94 L1429.10,873.99 L1429.35,874.03 L1429.60,874.07 L1429.85,874.11 L1430.10,874.15 L1430.35,874.19 L1430.60,874.23 L1430.85,874.27 L1431.10,874.31 L1431.35,874.35 L1431.60,874.39 L1431.85,874.42 L1432.10,874.46 L1432.35,874.49 L1432.60,874.52 L1432.85,874.55 L1433.10,874.58 L1433.35,874.61 L1433.60,874.64 L1433.85,874.66 L1434.10,874.69 L1434.35,874.71 L1434.60,874.73 L1434.85,874.74 L1435.10,874.76 L1435.35,874.77 L1435.60,874.78 L1435.85,874.79 L1436.10,874.80 L1455.10,875.00 L1468.10,875.10 L1528.10,874.60 L1598.80,873.40" stroke="#0000ff"/>
<path d="M1219.38,867.60 L1219.40,867.60 L1288.10,866.13 L1292.12,866.03 L1305.88,865.02 L1317.75,862.81 L1327.75,856.12 L1337.12,844.70 L1345.25,832.05 L1348.10,828.11 L1352.12,822.37 L1359.00,819.44 L1365.25,823.43 L1367.30,826.99 L1368.10,828.38 L1368.35,828.81 L1368.60,829.24 L1368.85,829.67 L1369.10,830.11 L1369.35,830.54 L1369.60,830.97 L1369.85,831.40 L1370.10,831.83 L1370.35,832.27 L1370.60,832.70 L1370.85,833.13 L1371.10,833.56 L1371.35,834.00 L1371.50,834.25 L1371.60,834.43 L1371.85,834.86 L1372.10,835.29 L1372.35,835.72 L1372.60,836.15 L1372.85,836.59 L1373.10,837.02 L1373.35,837.45 L1373.60,837.88 L1373.85,838.31 L1374.10,838.74 L1374.35,839.17 L1374.60,839.60 L1374.85,840.03 L1375.10,840.47 L1375.35,840.90 L1375.60,841.33 L1375.85,841.76 L1376.10,842.19 L1376.35,842.62 L1376.60,843.05 L1376.85,843.48 L1377.10,843.91 L1377.35,844.34 L1377.60,844.77 L1377.75,845.03 M1451.38,940.21 L1455.10,947.70 L1455.50,948.50 L1458.94,954.03 L1465.81,946.52 L1468.10,938.84 L1473.38,921.06 L1480.94,896.24 L1489.88,881.04 L1500.88,876.55 L1512.56,875.35 L1528.10,875.04 L1535.25,874.83 L1598.50,873.76" stroke="#ff0000"/>
<path d="M1219.38,865.98 L1219.40,865.97 L1241.50,862.53 L1260.25,854.76 L1277.75,842.00 L1288.10,833.30 L1292.12,829.90 L1305.88,824.27 L1317.75,823.18 L1327.75,822.75 L1337.12,820.33 L1345.25,815.18 L1348.10,813.83 L1352.12,811.75 L1359.00,813.82 L1365.25,818.43 M1455.50,956.75 L1458.94,962.28 L1465.81,962.33 L1468.10,957.78 L1473.38,947.18 L1480.94,931.31 L1489.88,926.14 L1500.88,928.39 L1512.56,926.64 L1526.31,915.80 L1528.10,913.92 L1541.44,899.75 L1557.94,885.72 L1577.19,877.14 L1598.50,874.72" stroke="#ff00ff"/>
<path d="M1219.38,840.35 L1219.40,840.33 L1241.50,825.03 L1260.25,809.76 L1277.75,798.25 L1288.10,794.50 L1292.12,793.03 L1305.88,795.90 L1317.75,804.43 L1327.75,811.37 L1337.12,814.08 L1345.25,812.30 L1348.10,810.95 L1352.12,808.87 M1473.38,952.68 L1480.94,938.18 L1489.88,938.79 L1500.88,949.70 L1512.56,959.92 L1526.31,962.55 L1528.10,961.89 L1541.44,956.81 L1557.94,944.16 L1577.19,925.27 L1598.50,905.66" stroke="#edb120"/>
<path d="M1219.38,804.73 L1219.40,804.71 L1241.50,790.65 L1260.25,780.38 L1277.75,776.75 L1288.10,778.13 L1292.12,778.65 L1305.88,787.77 L1317.75,798.81 L1327.75,808.62 L1337.12,811.20 M1500.88,957.95 L1512.56,968.17 L1526.31,976.99 L1528.10,977.22 L1541.44,978.81 L1557.94,974.41 L1577.19,963.08 L1598.50,946.22" stroke="#4dbeee"/>
<path d="M1219.38,773.85 L1219.40,773.84 L1241.50,766.28 L1260.25,763.26 L1277.75,765.75 L1288.10,770.10 L1292.12,771.78 L1305.88,783.40 L1317.75,796.31 M1512.56,973.67 L1526.31,983.87 L1528.10,984.74 L1541.44,991.19 L1557.94,993.66 L1577.19,990.58 L1598.50,980.59" stroke="#000000"/>
<path d="M1219.38,756.60 L1219.40,756.60 L1241.50,754.40 L1260.25,756.01 L1277.75,761.38 L1288.10,767.08 L1292.12,769.28 L1305.88,782.15 L1317.75,796.31 L1327.75,806.75 L1337.12,811.20 L1348.10,809.63 L1352.12,808.87 L1359.00,811.94 L1365.25,818.43 L1367.30,822.81 L1368.10,824.52 L1368.35,825.05 L1368.60,825.58 L1368.85,826.11 L1369.10,826.65 L1369.35,827.18 L1369.60,827.71 L1369.85,828.24 L1370.10,828.77 L1370.35,829.31 L1370.60,829.84 L1370.85,830.37 L1371.10,830.90 L1371.35,831.44 L1371.50,831.75 L1371.60,831.97 L1371.85,832.50 L1372.10,833.03 L1372.35,833.56 L1372.60,834.09 L1372.85,834.63 L1373.10,835.16 L1373.35,835.69 L1373.60,836.22 L1373.85,836.75 L1374.10,837.28 L1374.35,837.81 L1374.60,838.34 L1374.85,838.87 L1375.10,839.41 L1375.35,839.94 L1375.60,840.47 L1375.85,841.00 L1376.10,841.53 L1376.35,842.06 L1376.60,842.59 L1376.85,843.12 L1377.10,843.65 L1377.35,844.18 L1377.60,844.71 L1377.75,845.03 L1377.85,845.20 L1378.10,845.61 L1378.35,846.03 L1378.60,846.45 L1378.85,846.87 L1379.10,847.29 L1379.35,847.71 L1379.60,848.13 L1379.85,848.55 L1380.10,848.97 L1380.35,849.39 L1380.60,849.81 L1380.85,850.23 L1381.10,850.65 L1381.35,851.07 L1381.60,851.49 L1381.85,851.91 L1382.10,852.32 L1382.35,852.74 L1382.60,853.16 L1382.75,853.41 L1384.00,855.40 L1389.20,859.50 L1394.30,859.00 L1399.50,856.40 L1401.00,858.50 L1402.40,867.80 L1403.10,883.30 L1403.80,903.90 L1404.30,920.00 L1405.90,1100.00 L1407.20,1231.50 L1408.40,1100.00 L1408.80,920.00 L1408.90,862.60 L1409.10,821.30 L1409.30,800.70 L1409.50,798.50 L1410.60,800.70 L1412.10,795.50 L1413.40,811.00 L1414.70,831.60 L1416.00,852.30 L1417.30,865.70 L1419.10,871.90 L1422.20,874.50 L1427.40,877.10 L1431.50,881.20 L1435.60,888.40 L1439.80,898.80 L1444.00,914.30 L1445.88,916.78 L1451.38,940.21 L1455.10,955.15 L1455.50,956.75 L1458.94,965.03 L1465.81,965.08 L1468.10,961.36 L1473.38,952.68 L1480.94,940.24 L1489.88,942.23 L1500.88,957.95 L1512.56,973.67 L1526.31,986.62 L1528.10,987.66 L1541.44,995.31 L1557.94,1000.53 L1577.19,1002.27 L1598.50,997.78" stroke="#77ac30"/>
<line x1="1455.50" y1="735.40" x2="1455.50" y2="1261.20" stroke="#000" stroke-width="2.8" stroke-dasharray="7.25 6.627"/>
</g>
<text x="1164.85" y="811.45" style="font-family:'Liberation Sans',sans-serif;font-weight:bold;font-size:29.8px" fill="#262626" stroke="#262626" stroke-width="0.45" >0.2</text>
<text x="1191.55" y="881.45" style="font-family:'Liberation Sans',sans-serif;font-weight:bold;font-size:29.8px" fill="#262626" stroke="#262626" stroke-width="0.45" >0</text>
<text x="1146.25" y="951.45" style="font-family:'Liberation Sans',sans-serif;font-weight:bold;font-size:29.8px" fill="#262626" stroke="#262626" stroke-width="0.45" >-0.2</text>
<text x="1146.25" y="1021.45" style="font-family:'Liberation Sans',sans-serif;font-weight:bold;font-size:29.8px" fill="#262626" stroke="#262626" stroke-width="0.45" >-0.4</text>
<text x="1146.25" y="1091.45" style="font-family:'Liberation Sans',sans-serif;font-weight:bold;font-size:29.8px" fill="#262626" stroke="#262626" stroke-width="0.45" >-0.6</text>
<text x="1146.25" y="1161.45" style="font-family:'Liberation Sans',sans-serif;font-weight:bold;font-size:29.8px" fill="#262626" stroke="#262626" stroke-width="0.45" >-0.8</text>
<text x="1172.35" y="1231.45" style="font-family:'Liberation Sans',sans-serif;font-weight:bold;font-size:29.8px" fill="#262626" stroke="#262626" stroke-width="0.45" >-1</text>
<text x="1199.25" y="1292.20" style="font-family:'Liberation Sans',sans-serif;font-weight:bold;font-size:29.8px" fill="#262626" stroke="#262626" stroke-width="0.45" >-1</text>
<text x="1399.03" y="1292.20" style="font-family:'Liberation Sans',sans-serif;font-weight:bold;font-size:29.8px" fill="#262626" stroke="#262626" stroke-width="0.45" >0</text>
<text x="1588.10" y="1292.20" style="font-family:'Liberation Sans',sans-serif;font-weight:bold;font-size:29.8px" fill="#262626" stroke="#262626" stroke-width="0.45" >1</text>
<text><tspan x="1522.15" y="1342.85" style="font-family:'Liberation Serif',serif;font-size:38px" fill="#262626" stroke="#262626" stroke-width="0.5">×</tspan><tspan x="1544.80" y="1336.90" style="font-family:'Liberation Sans',sans-serif;font-weight:bold;font-size:29.8px" fill="#262626" stroke="#262626" stroke-width="0.45">10 </tspan><tspan x="1582.60" y="1323.80" style="font-family:'Liberation Sans',sans-serif;font-weight:bold;font-size:23.6px" fill="#262626" stroke="#262626" stroke-width="0.45">5</tspan></text>
<text><tspan x="1341.13" y="1340.20" style="font-family:'Liberation Sans',sans-serif;font-weight:bold;font-size:31.8px" fill="#262626" stroke="#262626" stroke-width="0.45">q</tspan><tspan x="1362.79" y="1340.20" style="font-family:'Liberation Serif',serif;font-style:italic;font-size:31.8px" fill="#262626" textLength="24.44" lengthAdjust="spacingAndGlyphs">ω</tspan><tspan x="1384.83" y="1355.30" style="font-family:'Liberation Sans',sans-serif;font-weight:bold;font-size:25px" fill="#262626" stroke="#262626" stroke-width="0.45">E</tspan><tspan x="1399.98" y="1340.20" style="font-family:'Liberation Sans',sans-serif;font-weight:bold;font-size:31.8px" fill="#262626" stroke="#262626" stroke-width="0.45">(s</tspan><tspan x="1430.58" y="1324.30" style="font-family:'Liberation Sans',sans-serif;font-weight:bold;font-size:25px" fill="#262626" stroke="#262626" stroke-width="0.45">-1 </tspan><tspan x="1465.38" y="1340.20" style="font-family:'Liberation Sans',sans-serif;font-weight:bold;font-size:31.8px" fill="#262626" stroke="#262626" stroke-width="0.45">)</tspan></text>
<text transform="translate(1122.00,993.85) rotate(-90)"><tspan x="-96.55" y="0.00" style="font-family:'Liberation Sans',sans-serif;font-weight:bold;font-size:31.8px" fill="#262626" stroke="#262626" stroke-width="0.45">T</tspan><tspan x="-74.15" y="14.90" style="font-family:'Liberation Sans',sans-serif;font-weight:bold;font-size:24.8px" fill="#262626" stroke="#262626" stroke-width="0.45">NTV</tspan><tspan x="-20.10" y="0.00" style="font-family:'Liberation Sans',sans-serif;font-weight:bold;font-size:31.8px" fill="#262626" stroke="#262626" stroke-width="0.45">(N/m </tspan><tspan x="67.35" y="-15.00" style="font-family:'Liberation Sans',sans-serif;font-weight:bold;font-size:24.8px" fill="#262626" stroke="#262626" stroke-width="0.45">2</tspan><tspan x="85.10" y="0.00" style="font-family:'Liberation Sans',sans-serif;font-weight:bold;font-size:31.8px" fill="#262626" stroke="#262626" stroke-width="0.45">)</tspan></text>
<text><tspan x="1223.05" y="717.70" style="font-family:'Liberation Sans',sans-serif;font-weight:bold;font-size:31.8px" fill="#000" stroke="#000" stroke-width="0.45">total,phasing-ck, </tspan><tspan x="1504.95" y="717.70" style="font-family:'Liberation Serif',serif;font-style:italic;font-size:32px" fill="#000" stroke="#000" stroke-width="0.6">ρ</tspan><tspan x="1520.70" y="717.70" style="font-family:'Liberation Sans',sans-serif;font-weight:bold;font-size:31.8px" fill="#000" stroke="#000" stroke-width="0.45">=0.3</tspan></text>
<text><tspan x="1144.50" y="764.90" style="font-family:'Liberation Serif',serif;font-size:46px" fill="#000" stroke="#000" stroke-width="0.5">(</tspan><tspan x="1163.01" y="764.40" style="font-family:'Liberation Serif',serif;font-weight:bold;font-size:42px" fill="#000" textLength="14.97" lengthAdjust="spacingAndGlyphs">f</tspan><tspan x="1181.45" y="764.90" style="font-family:'Liberation Serif',serif;font-size:46px" fill="#000" stroke="#000" stroke-width="0.5">)</tspan></text>
<rect x="1233.30" y="1012.40" width="98.2" height="225" fill="#fff" stroke="#262626" stroke-width="0.85"/>
<line x1="1237.00" y1="1029.40" x2="1271.60" y2="1029.40" stroke="#0000ff" stroke-width="2.4"/>
<text x="1274.15" y="1038.70" style="font-family:'Liberation Sans',sans-serif;font-weight:bold;font-size:26.1px" fill="#000" stroke="#000" stroke-width="0.45" >L=0</text>
<line x1="1237.00" y1="1061.10" x2="1271.60" y2="1061.10" stroke="#ff0000" stroke-width="2.4"/>
<text x="1274.15" y="1070.40" style="font-family:'Liberation Sans',sans-serif;font-weight:bold;font-size:26.1px" fill="#000" stroke="#000" stroke-width="0.45" >L=1</text>
<line x1="1237.00" y1="1092.80" x2="1271.60" y2="1092.80" stroke="#ff00ff" stroke-width="2.4"/>
<text x="1274.15" y="1102.10" style="font-family:'Liberation Sans',sans-serif;font-weight:bold;font-size:26.1px" fill="#000" stroke="#000" stroke-width="0.45" >L=2</text>
<line x1="1237.00" y1="1124.50" x2="1271.60" y2="1124.50" stroke="#edb120" stroke-width="2.4"/>
<text x="1274.15" y="1133.80" style="font-family:'Liberation Sans',sans-serif;font-weight:bold;font-size:26.1px" fill="#000" stroke="#000" stroke-width="0.45" >L=3</text>
<line x1="1237.00" y1="1156.20" x2="1271.60" y2="1156.20" stroke="#4dbeee" stroke-width="2.4"/>
<text x="1274.15" y="1165.50" style="font-family:'Liberation Sans',sans-serif;font-weight:bold;font-size:26.1px" fill="#000" stroke="#000" stroke-width="0.45" >L=4</text>
<line x1="1237.00" y1="1187.90" x2="1271.60" y2="1187.90" stroke="#000000" stroke-width="2.4"/>
<text x="1274.15" y="1197.20" style="font-family:'Liberation Sans',sans-serif;font-weight:bold;font-size:26.1px" fill="#000" stroke="#000" stroke-width="0.45" >L=5</text>
<line x1="1237.00" y1="1219.60" x2="1271.60" y2="1219.60" stroke="#77ac30" stroke-width="2.4"/>
<text x="1274.15" y="1228.90" style="font-family:'Liberation Sans',sans-serif;font-weight:bold;font-size:26.1px" fill="#000" stroke="#000" stroke-width="0.45" >L=6</text>
</svg></body></html>
